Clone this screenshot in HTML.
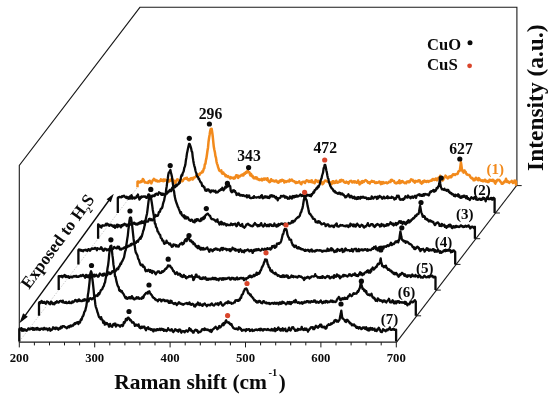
<!DOCTYPE html>
<html><head><meta charset="utf-8"><title>Raman spectra</title>
<style>html,body{margin:0;padding:0;background:#fff}svg{display:block}</style></head>
<body>
<svg width="550" height="405" viewBox="0 0 550 405">
<rect width="550" height="405" fill="#fff"/>
<g fill="none" stroke="#1a1a1a" stroke-width="1.1">
<polyline points="19.3,342.6 19.3,165.4 139.9,7.3 516.9,7.3 516.9,185.7"/>
<line x1="19.3" y1="342.1" x2="396.9" y2="342.1"/>
<line x1="396.6" y1="342.1" x2="516.9" y2="185.2"/>
</g>
<line x1="19.3" y1="341.5" x2="137.5" y2="187.3" stroke="#aaa" stroke-width="0.6" stroke-dasharray="1.5 1.5"/>
<path d="M19.3 342.1v5.3M34.4 342.1v3.3M49.5 342.1v3.3M64.5 342.1v3.3M79.6 342.1v3.3M94.7 342.1v5.3M109.8 342.1v3.3M124.9 342.1v3.3M139.9 342.1v3.3M155.0 342.1v3.3M170.1 342.1v5.3M185.2 342.1v3.3M200.3 342.1v3.3M215.3 342.1v3.3M230.4 342.1v3.3M245.5 342.1v5.3M260.6 342.1v3.3M275.7 342.1v3.3M290.7 342.1v3.3M305.8 342.1v3.3M320.9 342.1v5.3M336.0 342.1v3.3M351.1 342.1v3.3M366.1 342.1v3.3M381.2 342.1v3.3M396.3 342.1v5.3" stroke="#1a1a1a" stroke-width="1" fill="none"/>
<path d="M415.5 315.8h5.6M435.2 290.1h5.6M454.9 264.4h5.6M474.6 238.7h5.6M494.3 213.0h5.6M516.1 185.6h5.6" stroke="#1a1a1a" stroke-width="1" fill="none"/>
<polyline points="137.5,187.3 137.5,181.8 138.0,181.4 138.6,182.0 139.1,182.4 139.6,181.7 140.2,182.3 140.7,182.3 141.2,181.0 141.7,181.7 142.3,181.2 142.8,179.0 143.3,179.5 143.9,180.4 144.4,181.7 144.9,182.4 145.5,182.2 146.0,182.6 146.5,182.6 147.0,182.8 147.6,182.8 148.1,183.0 148.6,181.4 149.2,182.2 149.7,180.8 150.2,181.2 150.8,181.6 151.3,183.4 151.8,182.3 152.3,181.1 152.9,180.0 153.4,179.8 153.9,178.9 154.5,180.2 155.0,180.3 155.5,179.7 156.1,181.1 156.6,180.5 157.1,180.5 157.6,181.4 158.2,181.1 158.7,181.3 159.2,181.5 159.8,181.2 160.3,180.5 160.8,179.4 161.4,180.7 161.9,179.9 162.4,180.7 162.9,181.1 163.5,179.5 164.0,180.3 164.5,180.9 165.1,179.6 165.6,179.9 166.1,180.4 166.7,180.1 167.2,180.5 167.7,180.6 168.3,180.4 168.8,181.6 169.3,181.4 169.8,180.8 170.4,179.6 170.9,180.7 171.4,180.4 172.0,180.5 172.5,180.6 173.0,179.7 173.6,181.6 174.1,182.0 174.6,181.0 175.1,183.2 175.7,182.3 176.2,181.1 176.7,180.1 177.3,179.2 177.8,179.6 178.3,180.3 178.9,180.6 179.4,180.5 179.9,181.9 180.4,181.0 181.0,180.6 181.5,181.2 182.0,180.5 182.6,181.1 183.1,180.1 183.6,179.5 184.2,178.6 184.7,178.7 185.2,178.7 185.7,178.1 186.3,178.7 186.8,177.7 187.3,179.2 187.9,179.0 188.4,180.2 188.9,179.3 189.5,180.2 190.0,179.6 190.5,178.4 191.0,179.1 191.6,178.5 192.1,178.0 192.6,179.5 193.2,179.1 193.7,177.7 194.2,177.5 194.8,177.4 195.3,177.2 195.8,176.5 196.3,175.7 196.9,175.5 197.4,174.7 197.9,174.4 198.5,175.3 199.0,174.8 199.5,175.0 200.1,173.4 200.6,172.9 201.1,173.0 201.7,172.5 202.2,171.4 202.7,172.2 203.2,170.8 203.8,168.6 204.3,168.3 204.8,164.3 205.4,163.9 205.9,160.3 206.4,158.4 207.0,154.3 207.5,150.5 208.0,147.7 208.5,142.0 209.1,137.8 209.6,134.9 210.1,131.5 210.7,129.1 211.2,129.1 211.7,128.9 212.3,132.9 212.8,137.0 213.3,142.1 213.8,146.8 214.4,150.0 214.9,152.2 215.4,155.9 216.0,157.9 216.5,161.5 217.0,163.6 217.6,165.1 218.1,167.3 218.6,168.4 219.1,170.2 219.7,170.9 220.2,171.2 220.7,171.4 221.3,170.4 221.8,172.8 222.3,173.7 222.9,172.7 223.4,172.6 223.9,174.0 224.4,174.0 225.0,174.6 225.5,176.2 226.0,175.2 226.6,175.8 227.1,176.3 227.6,176.8 228.2,176.1 228.7,177.1 229.2,177.3 229.8,177.8 230.3,178.5 230.8,177.1 231.3,177.9 231.9,177.9 232.4,177.8 232.9,177.8 233.5,178.6 234.0,177.5 234.5,178.4 235.1,178.1 235.6,176.7 236.1,175.3 236.6,175.3 237.2,175.5 237.7,176.8 238.2,177.9 238.8,175.8 239.3,176.4 239.8,176.5 240.4,176.0 240.9,175.7 241.4,174.9 241.9,175.2 242.5,175.5 243.0,174.3 243.5,175.4 244.1,173.4 244.6,173.3 245.1,173.7 245.7,172.3 246.2,171.9 246.7,172.7 247.2,172.0 247.8,170.5 248.3,172.1 248.8,172.2 249.4,172.3 249.9,174.2 250.4,175.4 251.0,173.9 251.5,174.8 252.0,176.3 252.5,175.7 253.1,177.1 253.6,178.1 254.1,177.4 254.7,178.3 255.2,178.4 255.7,177.2 256.3,177.4 256.8,177.4 257.3,179.1 257.8,178.8 258.4,179.3 258.9,179.8 259.4,179.3 260.0,180.1 260.5,179.6 261.0,179.7 261.6,178.8 262.1,180.4 262.6,179.2 263.2,179.2 263.7,178.7 264.2,179.7 264.7,178.5 265.3,178.5 265.8,179.2 266.3,179.5 266.9,179.9 267.4,178.2 267.9,179.9 268.5,181.4 269.0,181.1 269.5,182.2 270.0,181.9 270.6,180.1 271.1,179.2 271.6,180.0 272.2,181.0 272.7,180.5 273.2,180.4 273.8,181.0 274.3,181.4 274.8,181.5 275.3,180.7 275.9,180.9 276.4,180.6 276.9,181.5 277.5,182.4 278.0,181.9 278.5,182.7 279.1,181.2 279.6,181.8 280.1,180.6 280.6,180.2 281.2,181.1 281.7,179.9 282.2,179.8 282.8,180.8 283.3,180.3 283.8,180.6 284.4,182.5 284.9,181.3 285.4,181.7 285.9,181.2 286.5,181.9 287.0,181.3 287.5,181.3 288.1,180.8 288.6,181.0 289.1,181.5 289.7,179.6 290.2,180.8 290.7,180.2 291.3,180.4 291.8,179.6 292.3,180.2 292.8,180.7 293.4,181.2 293.9,181.3 294.4,181.2 295.0,182.3 295.5,182.4 296.0,183.1 296.6,182.1 297.1,182.2 297.6,182.7 298.1,182.3 298.7,182.3 299.2,181.4 299.7,182.4 300.3,182.9 300.8,184.0 301.3,184.3 301.9,182.5 302.4,182.0 302.9,181.7 303.4,181.7 304.0,182.2 304.5,181.8 305.0,183.0 305.6,181.5 306.1,181.3 306.6,180.2 307.2,181.0 307.7,180.8 308.2,180.8 308.7,182.0 309.3,181.8 309.8,181.1 310.3,180.7 310.9,181.9 311.4,181.6 311.9,180.4 312.5,182.4 313.0,181.9 313.5,182.4 314.0,182.5 314.6,183.2 315.1,181.9 315.6,180.1 316.2,181.2 316.7,180.5 317.2,181.3 317.8,182.0 318.3,181.8 318.8,180.9 319.4,181.6 319.9,181.9 320.4,182.2 320.9,181.6 321.5,181.7 322.0,182.6 322.5,184.3 323.1,183.6 323.6,183.0 324.1,182.2 324.7,180.9 325.2,180.5 325.7,180.7 326.2,180.8 326.8,181.0 327.3,181.6 327.8,181.7 328.4,181.7 328.9,182.0 329.4,181.9 330.0,182.7 330.5,184.0 331.0,182.4 331.5,184.3 332.1,183.1 332.6,181.3 333.1,181.4 333.7,181.3 334.2,183.1 334.7,182.4 335.3,182.8 335.8,182.4 336.3,180.7 336.8,182.1 337.4,182.7 337.9,182.6 338.4,182.0 339.0,181.9 339.5,181.5 340.0,180.2 340.6,181.6 341.1,180.0 341.6,179.8 342.1,180.4 342.7,180.6 343.2,180.3 343.7,181.8 344.3,182.3 344.8,182.6 345.3,182.7 345.9,182.8 346.4,181.6 346.9,182.4 347.4,182.5 348.0,182.2 348.5,183.6 349.0,182.3 349.6,181.6 350.1,181.0 350.6,181.2 351.2,180.8 351.7,181.4 352.2,182.5 352.8,182.2 353.3,181.7 353.8,181.3 354.3,182.5 354.9,181.3 355.4,181.5 355.9,181.8 356.5,182.7 357.0,182.6 357.5,182.5 358.1,180.5 358.6,182.9 359.1,182.0 359.6,184.4 360.2,183.6 360.7,183.4 361.2,182.2 361.8,181.2 362.3,182.7 362.8,181.1 363.4,181.7 363.9,181.9 364.4,180.9 364.9,180.7 365.5,180.1 366.0,180.3 366.5,180.7 367.1,181.1 367.6,182.2 368.1,182.8 368.7,182.3 369.2,182.3 369.7,183.5 370.2,182.2 370.8,181.7 371.3,181.8 371.8,180.8 372.4,181.7 372.9,181.3 373.4,181.8 374.0,181.3 374.5,181.9 375.0,183.0 375.5,183.0 376.1,183.0 376.6,182.3 377.1,182.4 377.7,182.8 378.2,182.4 378.7,182.1 379.3,181.5 379.8,182.5 380.3,182.7 380.9,184.2 381.4,182.1 381.9,183.8 382.4,183.6 383.0,182.1 383.5,182.2 384.0,183.2 384.6,182.8 385.1,182.7 385.6,182.8 386.2,182.4 386.7,183.1 387.2,183.3 387.7,182.8 388.3,182.7 388.8,181.8 389.3,181.9 389.9,182.0 390.4,182.1 390.9,179.9 391.5,181.0 392.0,179.9 392.5,180.5 393.0,180.9 393.6,181.1 394.1,181.1 394.6,182.6 395.2,183.0 395.7,183.1 396.2,183.4 396.8,182.7 397.3,182.5 397.8,183.0 398.3,182.2 398.9,181.3 399.4,180.4 399.9,183.3 400.5,181.7 401.0,182.7 401.5,181.2 402.1,181.4 402.6,181.1 403.1,182.2 403.6,182.5 404.2,182.4 404.7,183.1 405.2,182.7 405.8,182.6 406.3,183.2 406.8,181.6 407.4,181.4 407.9,181.7 408.4,181.4 408.9,182.3 409.5,182.1 410.0,181.7 410.5,180.2 411.1,179.3 411.6,180.1 412.1,180.1 412.7,179.9 413.2,181.2 413.7,181.8 414.3,181.8 414.8,182.7 415.3,180.9 415.8,181.3 416.4,181.6 416.9,181.1 417.4,181.5 418.0,181.4 418.5,180.3 419.0,180.6 419.6,180.3 420.1,181.4 420.6,182.7 421.1,182.5 421.7,183.7 422.2,182.3 422.7,181.4 423.3,182.4 423.8,181.2 424.3,180.5 424.9,181.2 425.4,181.6 425.9,181.0 426.4,181.9 427.0,181.6 427.5,181.0 428.0,180.9 428.6,182.0 429.1,180.9 429.6,180.9 430.2,181.1 430.7,180.7 431.2,180.2 431.7,180.6 432.3,179.4 432.8,179.1 433.3,179.0 433.9,179.9 434.4,179.9 434.9,179.8 435.5,178.7 436.0,178.5 436.5,179.0 437.0,180.3 437.6,179.2 438.1,178.6 438.6,177.6 439.2,177.3 439.7,177.8 440.2,175.8 440.8,176.8 441.3,178.9 441.8,178.3 442.4,180.6 442.9,180.0 443.4,179.5 443.9,177.6 444.5,177.7 445.0,177.2 445.5,175.6 446.1,176.1 446.6,177.2 447.1,177.8 447.7,178.5 448.2,178.2 448.7,177.3 449.2,176.6 449.8,177.2 450.3,176.2 450.8,177.3 451.4,177.2 451.9,175.5 452.4,175.4 453.0,174.2 453.5,175.0 454.0,174.9 454.5,174.4 455.1,174.9 455.6,174.3 456.1,174.1 456.7,174.1 457.2,173.7 457.7,173.9 458.3,171.7 458.8,171.0 459.3,171.1 459.8,170.6 460.4,166.1 460.9,162.3 461.4,165.3 462.0,169.9 462.5,171.2 463.0,170.5 463.6,172.6 464.1,170.5 464.6,170.6 465.1,172.3 465.7,171.9 466.2,173.5 466.7,174.6 467.3,174.5 467.8,174.7 468.3,175.1 468.9,175.0 469.4,175.1 469.9,175.7 470.4,177.2 471.0,177.8 471.5,178.2 472.0,177.8 472.6,179.0 473.1,178.8 473.6,180.3 474.2,180.2 474.7,180.2 475.2,178.9 475.8,177.7 476.3,179.2 476.8,179.4 477.3,178.6 477.9,180.1 478.4,180.3 478.9,178.1 479.5,179.0 480.0,179.4 480.5,180.4 481.1,180.2 481.6,180.8 482.1,180.2 482.6,181.3 483.2,181.3 483.7,180.6 484.2,180.9 484.8,179.7 485.3,179.9 485.8,181.5 486.4,180.9 486.9,181.3 487.4,181.1 487.9,182.1 488.5,182.1 489.0,181.1 489.5,179.8 490.1,180.0 490.6,180.0 491.1,180.6 491.7,180.2 492.2,179.9 492.7,181.0 493.2,179.9 493.8,180.6 494.3,181.6 494.8,182.7 495.4,183.6 495.9,181.0 496.4,181.8 497.0,180.5 497.5,179.7 498.0,180.0 498.5,180.3 499.1,179.9 499.6,180.4 500.1,181.1 500.7,182.2 501.2,182.4 501.7,183.7 502.3,183.6 502.8,183.7 503.3,182.9 503.9,181.8 504.4,182.4 504.9,181.3 505.4,180.9 506.0,178.8 506.5,180.7 507.0,181.9 507.6,181.1 508.1,181.3 508.6,182.4 509.2,182.9 509.7,182.3 510.2,181.7 510.7,181.8 511.3,181.8 511.8,180.9 512.3,182.1 512.9,182.9 513.4,182.4 513.9,182.7 514.5,180.6 515.0,180.9 515.5,180.8 516.0,181.6 516.0,185.8" fill="none" stroke="#f28a1c" stroke-width="2.5" stroke-linejoin="round"/>
<polyline points="117.8,213.0 117.8,197.9 118.3,197.3 118.9,197.1 119.4,197.3 119.9,196.8 120.4,197.2 121.0,197.3 121.5,197.3 122.0,196.2 122.6,196.8 123.1,196.0 123.6,196.4 124.1,195.7 124.7,196.4 125.2,197.2 125.7,197.2 126.2,198.0 126.8,196.8 127.3,197.4 127.8,197.9 128.4,198.7 128.9,197.1 129.4,198.6 129.9,196.3 130.5,197.1 131.0,198.5 131.5,195.2 132.1,196.6 132.6,198.6 133.1,198.0 133.6,197.9 134.2,197.5 134.7,198.5 135.2,197.9 135.7,197.6 136.3,197.6 136.8,195.8 137.3,196.0 137.9,194.5 138.4,196.9 138.9,197.5 139.4,199.6 140.0,198.8 140.5,197.0 141.0,197.7 141.6,196.5 142.1,197.0 142.6,196.7 143.1,196.6 143.7,196.5 144.2,196.8 144.7,196.3 145.2,196.4 145.8,197.4 146.3,197.7 146.8,197.9 147.4,197.5 147.9,195.5 148.4,194.4 148.9,194.4 149.5,195.0 150.0,196.4 150.5,196.4 151.1,196.8 151.6,197.2 152.1,195.7 152.6,196.2 153.2,195.3 153.7,195.5 154.2,196.2 154.7,196.0 155.3,194.1 155.8,194.7 156.3,193.6 156.9,193.8 157.4,194.5 157.9,194.8 158.4,193.5 159.0,192.2 159.5,193.1 160.0,192.8 160.6,193.3 161.1,194.5 161.6,194.8 162.1,193.5 162.7,194.7 163.2,193.7 163.7,194.8 164.2,195.0 164.8,194.4 165.3,194.2 165.8,193.4 166.4,192.3 166.9,193.6 167.4,191.6 167.9,191.9 168.5,192.2 169.0,191.3 169.5,190.3 170.1,189.7 170.6,190.1 171.1,191.3 171.6,190.1 172.2,187.7 172.7,189.3 173.2,187.7 173.7,187.0 174.3,187.1 174.8,185.7 175.3,187.1 175.9,185.6 176.4,184.6 176.9,185.8 177.4,184.8 178.0,184.3 178.5,184.1 179.0,182.4 179.6,183.2 180.1,180.6 180.6,179.6 181.1,176.4 181.7,174.8 182.2,175.5 182.7,173.2 183.2,172.2 183.8,170.7 184.3,167.7 184.8,166.8 185.4,164.4 185.9,160.2 186.4,157.5 186.9,153.8 187.5,151.0 188.0,148.6 188.5,146.2 189.1,143.9 189.6,144.0 190.1,145.2 190.6,146.7 191.2,148.7 191.7,151.4 192.2,152.2 192.7,156.8 193.3,160.7 193.8,163.5 194.3,165.8 194.9,167.7 195.4,170.3 195.9,172.1 196.4,173.4 197.0,176.2 197.5,176.7 198.0,176.8 198.6,179.0 199.1,178.8 199.6,180.1 200.1,181.3 200.7,182.3 201.2,182.5 201.7,183.9 202.2,185.9 202.8,185.7 203.3,186.1 203.8,187.2 204.4,187.1 204.9,189.1 205.4,190.6 205.9,190.7 206.5,190.8 207.0,189.4 207.5,190.4 208.1,189.4 208.6,189.6 209.1,190.2 209.6,191.5 210.2,190.7 210.7,192.3 211.2,191.4 211.7,190.5 212.3,191.1 212.8,190.9 213.3,190.5 213.9,191.5 214.4,191.7 214.9,191.1 215.4,190.6 216.0,192.6 216.5,192.3 217.0,192.1 217.6,192.3 218.1,191.9 218.6,191.0 219.1,190.4 219.7,190.7 220.2,190.0 220.7,189.3 221.2,189.9 221.8,189.1 222.3,187.8 222.8,189.6 223.4,190.3 223.9,189.5 224.4,189.2 224.9,187.5 225.5,186.5 226.0,187.6 226.5,187.1 227.1,186.6 227.6,186.7 228.1,185.5 228.6,185.5 229.2,185.0 229.7,186.1 230.2,186.1 230.7,190.5 231.3,191.8 231.8,192.3 232.3,192.0 232.9,190.5 233.4,190.8 233.9,190.1 234.4,191.6 235.0,190.9 235.5,192.5 236.0,192.8 236.6,195.0 237.1,194.4 237.6,193.7 238.1,193.5 238.7,194.7 239.2,193.7 239.7,195.1 240.2,195.6 240.8,195.2 241.3,195.2 241.8,195.0 242.4,195.8 242.9,195.5 243.4,195.2 243.9,195.3 244.5,196.2 245.0,196.1 245.5,196.3 246.1,195.8 246.6,195.2 247.1,197.4 247.6,195.6 248.2,196.5 248.7,196.9 249.2,195.5 249.7,197.8 250.3,197.9 250.8,198.2 251.3,198.2 251.9,198.0 252.4,197.5 252.9,197.1 253.4,197.9 254.0,196.2 254.5,197.5 255.0,197.3 255.6,197.3 256.1,197.4 256.6,197.6 257.1,197.3 257.7,197.2 258.2,197.1 258.7,197.0 259.3,197.8 259.8,197.6 260.3,197.5 260.8,196.0 261.4,197.4 261.9,195.2 262.4,196.2 262.9,198.3 263.5,197.5 264.0,197.5 264.5,197.6 265.1,196.3 265.6,197.2 266.1,196.4 266.6,196.8 267.2,197.7 267.7,196.6 268.2,197.7 268.8,197.9 269.3,198.0 269.8,196.9 270.3,195.5 270.9,196.5 271.4,195.3 271.9,195.8 272.4,195.5 273.0,196.6 273.5,195.9 274.0,195.8 274.6,197.1 275.1,196.9 275.6,198.2 276.1,196.9 276.7,198.5 277.2,198.0 277.7,200.3 278.3,198.6 278.8,198.3 279.3,198.1 279.8,198.0 280.4,197.6 280.9,196.0 281.4,196.4 281.9,195.9 282.5,196.4 283.0,196.5 283.5,195.7 284.1,195.9 284.6,196.5 285.1,197.7 285.6,196.5 286.2,197.0 286.7,197.7 287.2,197.3 287.8,198.7 288.3,198.4 288.8,198.6 289.3,198.6 289.9,196.5 290.4,197.7 290.9,196.6 291.4,198.0 292.0,198.5 292.5,197.2 293.0,196.0 293.6,196.5 294.1,197.4 294.6,196.3 295.1,195.8 295.7,196.9 296.2,196.6 296.7,195.4 297.3,196.1 297.8,196.5 298.3,196.3 298.8,196.2 299.4,195.3 299.9,195.2 300.4,194.5 300.9,195.0 301.5,196.1 302.0,195.1 302.5,195.8 303.1,195.5 303.6,195.6 304.1,196.8 304.6,196.2 305.2,195.9 305.7,196.1 306.2,196.0 306.8,194.6 307.3,194.9 307.8,195.5 308.3,195.4 308.9,195.0 309.4,195.7 309.9,194.9 310.4,195.2 311.0,196.2 311.5,194.2 312.0,194.8 312.6,193.7 313.1,193.0 313.6,191.8 314.1,192.6 314.7,190.1 315.2,190.2 315.7,189.6 316.3,188.4 316.8,187.8 317.3,188.5 317.8,186.5 318.4,187.2 318.9,186.0 319.4,184.9 319.9,183.7 320.5,181.0 321.0,179.2 321.5,178.6 322.1,175.5 322.6,174.0 323.1,172.4 323.6,168.5 324.2,166.9 324.7,164.9 325.2,164.9 325.8,167.2 326.3,170.3 326.8,172.1 327.3,175.3 327.9,178.1 328.4,178.8 328.9,182.2 329.4,183.1 330.0,184.9 330.5,186.5 331.0,187.0 331.6,188.4 332.1,188.5 332.6,189.1 333.1,190.0 333.7,191.2 334.2,190.9 334.7,191.0 335.3,192.6 335.8,192.1 336.3,192.7 336.8,193.1 337.4,193.1 337.9,193.8 338.4,193.7 338.9,192.7 339.5,192.7 340.0,193.0 340.5,194.3 341.1,193.4 341.6,194.2 342.1,193.5 342.6,193.9 343.2,194.8 343.7,194.7 344.2,195.9 344.8,195.8 345.3,197.4 345.8,196.4 346.3,197.0 346.9,196.1 347.4,195.3 347.9,195.2 348.4,194.3 349.0,195.6 349.5,196.9 350.0,197.4 350.6,196.8 351.1,195.7 351.6,197.1 352.1,196.5 352.7,198.1 353.2,197.8 353.7,197.0 354.3,196.7 354.8,198.7 355.3,198.1 355.8,197.8 356.4,199.0 356.9,197.8 357.4,197.3 357.9,198.9 358.5,197.2 359.0,197.5 359.5,198.2 360.1,198.7 360.6,196.9 361.1,197.9 361.6,197.2 362.2,196.9 362.7,197.6 363.2,196.7 363.8,197.5 364.3,197.8 364.8,197.7 365.3,197.9 365.9,197.4 366.4,198.1 366.9,199.0 367.4,198.5 368.0,198.2 368.5,199.0 369.0,198.2 369.6,198.6 370.1,198.9 370.6,198.4 371.1,198.7 371.7,196.3 372.2,197.1 372.7,198.3 373.3,198.6 373.8,197.7 374.3,197.4 374.8,196.9 375.4,197.1 375.9,197.0 376.4,197.5 376.9,199.0 377.5,196.6 378.0,198.4 378.5,197.0 379.1,197.1 379.6,195.9 380.1,197.1 380.6,196.7 381.2,196.8 381.7,197.8 382.2,198.7 382.8,198.2 383.3,198.2 383.8,196.7 384.3,197.3 384.9,198.3 385.4,198.1 385.9,197.7 386.5,197.8 387.0,196.7 387.5,196.3 388.0,198.3 388.6,197.2 389.1,197.9 389.6,197.6 390.1,197.8 390.7,197.8 391.2,197.9 391.7,196.8 392.3,197.6 392.8,197.3 393.3,197.5 393.8,198.0 394.4,199.5 394.9,198.9 395.4,198.2 396.0,198.7 396.5,197.4 397.0,195.7 397.5,196.9 398.1,196.3 398.6,195.7 399.1,197.1 399.6,199.0 400.2,199.7 400.7,199.4 401.2,199.4 401.8,199.6 402.3,198.9 402.8,199.7 403.3,199.9 403.9,198.4 404.4,198.9 404.9,197.6 405.5,196.3 406.0,196.5 406.5,196.8 407.0,197.5 407.6,197.5 408.1,195.5 408.6,196.3 409.1,197.2 409.7,197.2 410.2,197.9 410.7,198.2 411.3,196.7 411.8,197.0 412.3,197.5 412.8,196.5 413.4,197.7 413.9,196.7 414.4,196.7 415.0,195.8 415.5,196.5 416.0,198.0 416.5,196.1 417.1,195.4 417.6,195.2 418.1,194.7 418.6,194.6 419.2,194.2 419.7,195.6 420.2,195.6 420.8,194.8 421.3,195.7 421.8,194.9 422.3,195.8 422.9,195.6 423.4,194.2 423.9,195.6 424.5,195.0 425.0,193.9 425.5,194.3 426.0,194.2 426.6,194.5 427.1,194.2 427.6,194.8 428.1,194.7 428.7,195.4 429.2,194.5 429.7,192.8 430.3,191.8 430.8,192.3 431.3,191.2 431.8,191.2 432.4,191.1 432.9,190.5 433.4,189.9 434.0,191.7 434.5,190.6 435.0,190.2 435.5,191.0 436.1,190.0 436.6,188.1 437.1,187.9 437.6,188.2 438.2,186.3 438.7,186.3 439.2,184.1 439.8,179.9 440.3,184.0 440.8,186.7 441.3,187.9 441.9,189.3 442.4,189.4 442.9,189.1 443.5,189.8 444.0,189.5 444.5,188.8 445.0,190.1 445.6,190.2 446.1,190.2 446.6,190.8 447.1,189.8 447.7,190.5 448.2,189.9 448.7,191.8 449.3,191.4 449.8,192.8 450.3,193.2 450.8,192.8 451.4,193.0 451.9,194.4 452.4,194.3 453.0,194.1 453.5,195.0 454.0,195.9 454.5,195.0 455.1,196.4 455.6,194.8 456.1,195.0 456.6,195.5 457.2,195.9 457.7,196.0 458.2,194.3 458.8,196.6 459.3,195.4 459.8,197.3 460.3,197.7 460.9,197.9 461.4,196.8 461.9,196.2 462.5,197.2 463.0,197.0 463.5,195.7 464.0,196.2 464.6,195.7 465.1,197.2 465.6,197.3 466.1,198.3 466.7,196.2 467.2,197.6 467.7,198.7 468.3,198.3 468.8,199.2 469.3,199.1 469.8,200.0 470.4,198.6 470.9,197.9 471.4,197.2 472.0,198.1 472.5,198.1 473.0,198.4 473.5,198.9 474.1,197.7 474.6,197.1 475.1,198.0 475.6,197.0 476.2,199.6 476.7,199.2 477.2,199.3 477.8,199.8 478.3,199.7 478.8,199.0 479.3,198.6 479.9,198.7 480.4,199.8 480.9,199.3 481.5,199.9 482.0,198.6 482.5,199.4 483.0,197.7 483.6,197.9 484.1,198.7 484.6,198.3 485.1,199.5 485.7,201.3 486.2,199.2 486.7,199.2 487.3,197.1 487.8,196.7 488.3,199.1 488.8,199.1 489.4,199.2 489.9,198.6 490.4,198.4 491.0,197.9 491.5,199.4 492.0,198.0 492.5,199.6 493.1,198.2 493.6,197.8 494.1,198.2 494.6,198.8 494.6,213.0" fill="none" stroke="#0a0a0a" stroke-width="2.3" stroke-linejoin="round"/>
<polyline points="98.1,238.7 98.1,224.4 98.6,224.6 99.2,225.5 99.7,225.4 100.2,226.8 100.7,226.3 101.3,227.6 101.8,225.7 102.3,226.2 102.9,225.2 103.4,225.7 103.9,225.7 104.4,225.7 105.0,225.3 105.5,224.5 106.0,223.8 106.5,225.2 107.1,223.6 107.6,224.6 108.1,224.2 108.7,224.5 109.2,225.9 109.7,225.5 110.2,225.0 110.8,224.6 111.3,225.2 111.8,225.6 112.4,226.1 112.9,225.4 113.4,226.8 113.9,226.6 114.5,225.5 115.0,227.8 115.5,226.6 116.0,225.6 116.6,226.6 117.1,224.6 117.6,227.2 118.2,225.3 118.7,224.9 119.2,225.7 119.7,226.2 120.3,226.2 120.8,227.4 121.3,225.1 121.9,226.3 122.4,225.1 122.9,224.6 123.4,225.3 124.0,224.3 124.5,223.6 125.0,224.6 125.5,224.3 126.1,224.6 126.6,226.1 127.1,224.9 127.7,224.7 128.2,225.5 128.7,224.7 129.2,225.0 129.8,224.0 130.3,224.6 130.8,223.8 131.4,224.5 131.9,223.8 132.4,223.9 132.9,223.6 133.5,223.5 134.0,222.6 134.5,223.8 135.0,223.1 135.6,223.8 136.1,224.5 136.6,223.8 137.2,224.2 137.7,224.5 138.2,223.4 138.7,222.9 139.3,223.6 139.8,223.5 140.3,222.0 140.9,223.4 141.4,222.5 141.9,221.3 142.4,222.9 143.0,222.1 143.5,222.2 144.0,223.4 144.5,220.8 145.1,222.3 145.6,221.9 146.1,221.4 146.7,221.6 147.2,221.6 147.7,221.6 148.2,221.4 148.8,219.1 149.3,219.5 149.8,218.8 150.4,219.5 150.9,220.2 151.4,219.3 151.9,219.9 152.5,220.3 153.0,220.0 153.5,219.5 154.0,217.4 154.6,215.7 155.1,216.8 155.6,214.8 156.2,216.0 156.7,215.7 157.2,215.9 157.7,215.9 158.3,214.5 158.8,212.3 159.3,211.7 159.9,211.9 160.4,210.0 160.9,208.7 161.4,208.7 162.0,208.2 162.5,206.6 163.0,203.8 163.5,202.2 164.1,200.6 164.6,197.7 165.1,195.8 165.7,193.9 166.2,189.3 166.7,186.4 167.2,182.2 167.8,178.4 168.3,174.6 168.8,172.5 169.4,172.2 169.9,171.0 170.4,170.0 170.9,172.7 171.5,174.7 172.0,177.1 172.5,181.0 173.0,184.7 173.6,189.7 174.1,191.6 174.6,195.8 175.2,198.4 175.7,200.7 176.2,202.1 176.7,203.5 177.3,205.1 177.8,206.8 178.3,207.4 178.9,209.1 179.4,210.3 179.9,211.6 180.4,213.2 181.0,212.1 181.5,214.0 182.0,215.4 182.5,215.5 183.1,216.1 183.6,216.9 184.1,215.3 184.7,218.3 185.2,217.4 185.7,216.5 186.2,218.6 186.8,217.8 187.3,217.9 187.8,217.3 188.4,218.6 188.9,219.7 189.4,220.1 189.9,220.0 190.5,220.9 191.0,219.9 191.5,219.6 192.0,219.8 192.6,220.5 193.1,221.8 193.6,221.9 194.2,222.2 194.7,222.3 195.2,219.7 195.7,221.2 196.3,220.9 196.8,219.2 197.3,220.0 197.9,219.2 198.4,220.2 198.9,220.5 199.4,220.9 200.0,221.1 200.5,220.3 201.0,218.7 201.5,220.5 202.1,218.6 202.6,217.7 203.1,218.2 203.7,219.0 204.2,216.6 204.7,217.9 205.2,215.7 205.8,215.0 206.3,214.6 206.8,214.2 207.4,213.9 207.9,213.6 208.4,214.4 208.9,215.0 209.5,215.6 210.0,215.6 210.5,217.0 211.0,218.2 211.6,219.1 212.1,218.9 212.6,219.2 213.2,219.4 213.7,219.5 214.2,219.9 214.7,220.0 215.3,221.0 215.8,221.6 216.3,220.4 216.9,221.2 217.4,219.3 217.9,222.1 218.4,222.1 219.0,223.3 219.5,224.6 220.0,222.5 220.5,222.8 221.1,221.8 221.6,224.4 222.1,222.3 222.7,224.0 223.2,224.0 223.7,224.6 224.2,223.3 224.8,223.6 225.3,223.6 225.8,224.6 226.4,225.5 226.9,224.3 227.4,224.3 227.9,224.7 228.5,225.2 229.0,225.1 229.5,225.0 230.0,225.1 230.6,225.0 231.1,223.5 231.6,224.0 232.2,224.9 232.7,225.1 233.2,224.1 233.7,224.3 234.3,224.0 234.8,224.3 235.3,223.6 235.9,225.4 236.4,226.2 236.9,226.0 237.4,225.0 238.0,223.1 238.5,222.8 239.0,223.8 239.6,224.7 240.1,225.4 240.6,225.9 241.1,224.9 241.7,224.9 242.2,224.0 242.7,226.7 243.2,226.5 243.8,226.9 244.3,227.7 244.8,227.2 245.4,226.7 245.9,225.4 246.4,224.4 246.9,224.6 247.5,224.1 248.0,223.7 248.5,224.4 249.1,225.0 249.6,224.8 250.1,225.4 250.6,225.7 251.2,226.2 251.7,225.9 252.2,225.9 252.7,226.3 253.3,225.7 253.8,224.4 254.3,224.2 254.9,223.0 255.4,224.4 255.9,224.6 256.4,224.5 257.0,225.3 257.5,226.2 258.0,225.2 258.6,225.2 259.1,226.1 259.6,224.9 260.1,224.5 260.7,225.3 261.2,223.1 261.7,224.7 262.2,225.5 262.8,225.8 263.3,226.6 263.8,225.1 264.4,225.5 264.9,223.8 265.4,224.7 265.9,225.5 266.5,225.1 267.0,226.2 267.5,224.9 268.1,225.9 268.6,225.0 269.1,226.2 269.6,224.4 270.2,224.3 270.7,224.3 271.2,224.7 271.7,225.8 272.3,226.0 272.8,225.5 273.3,226.0 273.9,225.0 274.4,223.5 274.9,225.6 275.4,225.1 276.0,225.8 276.5,226.6 277.0,224.8 277.6,226.3 278.1,225.9 278.6,224.0 279.1,224.1 279.7,225.1 280.2,224.1 280.7,224.1 281.2,223.4 281.8,223.8 282.3,223.8 282.8,223.7 283.4,224.6 283.9,224.1 284.4,224.0 284.9,223.4 285.5,224.1 286.0,224.9 286.5,224.1 287.1,224.2 287.6,223.9 288.1,223.8 288.6,223.0 289.2,223.6 289.7,223.6 290.2,223.4 290.7,223.4 291.3,222.6 291.8,221.3 292.3,221.0 292.9,222.5 293.4,220.9 293.9,221.3 294.4,221.4 295.0,220.5 295.5,219.7 296.0,218.9 296.6,218.4 297.1,217.9 297.6,217.7 298.1,216.9 298.7,217.2 299.2,216.2 299.7,216.0 300.2,214.1 300.8,212.3 301.3,211.9 301.8,209.7 302.4,208.5 302.9,206.0 303.4,202.8 303.9,199.7 304.5,197.8 305.0,197.9 305.5,197.6 306.1,199.6 306.6,200.1 307.1,202.9 307.6,205.9 308.2,208.2 308.7,211.1 309.2,213.1 309.7,213.9 310.3,213.8 310.8,215.1 311.3,215.5 311.9,216.7 312.4,216.8 312.9,218.7 313.4,218.8 314.0,218.9 314.5,219.1 315.0,219.6 315.6,222.1 316.1,221.7 316.6,221.7 317.1,222.5 317.7,221.5 318.2,222.5 318.7,221.1 319.2,221.8 319.8,221.7 320.3,223.1 320.8,223.0 321.4,224.4 321.9,224.3 322.4,223.9 322.9,223.9 323.5,223.8 324.0,223.1 324.5,224.0 325.1,224.3 325.6,226.2 326.1,225.6 326.6,225.5 327.2,224.4 327.7,224.3 328.2,224.4 328.7,225.1 329.3,226.5 329.8,226.0 330.3,226.5 330.9,225.9 331.4,225.6 331.9,226.1 332.4,226.2 333.0,225.6 333.5,227.1 334.0,227.0 334.6,225.9 335.1,225.2 335.6,224.5 336.1,224.0 336.7,223.5 337.2,226.2 337.7,226.1 338.2,226.5 338.8,226.5 339.3,226.1 339.8,225.8 340.4,225.0 340.9,225.7 341.4,225.5 341.9,225.3 342.5,225.1 343.0,225.7 343.5,225.6 344.1,226.1 344.6,225.9 345.1,226.0 345.6,226.3 346.2,225.5 346.7,226.1 347.2,225.4 347.7,225.7 348.3,227.1 348.8,226.1 349.3,225.2 349.9,226.2 350.4,223.7 350.9,224.4 351.4,225.1 352.0,224.5 352.5,225.3 353.0,226.1 353.6,224.5 354.1,226.4 354.6,225.6 355.1,224.7 355.7,226.6 356.2,225.9 356.7,224.9 357.2,223.6 357.8,224.7 358.3,225.0 358.8,225.4 359.4,226.6 359.9,226.9 360.4,225.9 360.9,225.8 361.5,224.8 362.0,225.4 362.5,225.2 363.1,226.1 363.6,227.2 364.1,227.5 364.6,227.1 365.2,226.3 365.7,226.6 366.2,225.7 366.8,225.4 367.3,224.3 367.8,223.1 368.3,224.9 368.9,225.7 369.4,226.0 369.9,225.3 370.4,225.4 371.0,224.2 371.5,224.3 372.0,224.1 372.6,224.4 373.1,224.9 373.6,226.4 374.1,226.0 374.7,227.0 375.2,225.7 375.7,226.0 376.3,224.6 376.8,224.9 377.3,224.0 377.8,224.4 378.4,224.6 378.9,224.9 379.4,225.1 379.9,226.5 380.5,225.1 381.0,226.3 381.5,223.8 382.1,225.2 382.6,225.2 383.1,225.6 383.6,224.7 384.2,226.5 384.7,225.7 385.2,225.7 385.8,225.9 386.3,224.9 386.8,224.1 387.3,225.4 387.9,224.2 388.4,225.3 388.9,224.5 389.4,224.0 390.0,223.9 390.5,222.3 391.0,223.4 391.6,223.1 392.1,224.3 392.6,224.7 393.1,223.6 393.7,225.5 394.2,224.7 394.7,224.4 395.3,223.7 395.8,222.9 396.3,225.1 396.8,223.8 397.4,223.5 397.9,223.7 398.4,222.9 398.9,221.8 399.5,221.1 400.0,221.9 400.5,222.7 401.1,221.2 401.6,221.9 402.1,223.3 402.6,223.9 403.2,222.1 403.7,222.0 404.2,222.1 404.8,223.7 405.3,224.0 405.8,224.5 406.3,222.5 406.9,221.7 407.4,223.0 407.9,221.7 408.4,220.2 409.0,221.6 409.5,222.3 410.0,220.8 410.6,221.3 411.1,220.6 411.6,219.5 412.1,219.7 412.7,218.8 413.2,218.0 413.7,218.5 414.3,217.6 414.8,217.1 415.3,215.7 415.8,216.0 416.4,216.0 416.9,214.4 417.4,214.4 417.9,214.2 418.5,214.0 419.0,211.9 419.5,208.9 420.1,205.8 420.6,208.5 421.1,211.7 421.6,213.1 422.2,214.5 422.7,216.7 423.2,216.9 423.8,215.9 424.3,216.2 424.8,216.8 425.3,218.9 425.9,218.4 426.4,219.5 426.9,219.0 427.4,219.1 428.0,220.5 428.5,220.1 429.0,221.5 429.6,220.5 430.1,221.0 430.6,220.5 431.1,221.5 431.7,221.2 432.2,221.8 432.7,222.1 433.3,221.9 433.8,223.5 434.3,224.0 434.8,225.1 435.4,224.8 435.9,223.6 436.4,222.9 436.9,222.9 437.5,222.5 438.0,222.5 438.5,223.6 439.1,223.7 439.6,225.9 440.1,224.9 440.6,224.8 441.2,226.1 441.7,224.0 442.2,224.1 442.8,225.6 443.3,224.9 443.8,225.3 444.3,224.6 444.9,226.9 445.4,226.9 445.9,226.4 446.4,227.8 447.0,226.2 447.5,226.1 448.0,226.7 448.6,225.1 449.1,225.0 449.6,226.4 450.1,224.7 450.7,225.2 451.2,226.0 451.7,227.7 452.3,228.1 452.8,227.6 453.3,226.2 453.8,226.4 454.4,226.3 454.9,227.5 455.4,227.3 455.9,225.9 456.5,225.8 457.0,226.9 457.5,226.5 458.1,226.5 458.6,226.9 459.1,227.0 459.6,226.7 460.2,226.0 460.7,225.4 461.2,225.3 461.8,226.3 462.3,226.6 462.8,226.3 463.3,227.1 463.9,226.5 464.4,226.9 464.9,226.3 465.4,225.6 466.0,226.1 466.5,226.7 467.0,226.3 467.6,225.9 468.1,226.5 468.6,225.4 469.1,226.5 469.7,226.8 470.2,228.4 470.7,227.9 471.3,226.8 471.8,227.0 472.3,226.6 472.8,226.7 473.4,227.3 473.9,228.0 474.4,227.2 474.9,226.7 474.9,238.7" fill="none" stroke="#0a0a0a" stroke-width="2.3" stroke-linejoin="round"/>
<polyline points="78.4,264.4 78.4,250.2 78.9,249.5 79.5,250.2 80.0,249.6 80.5,250.5 81.0,249.9 81.6,250.7 82.1,250.3 82.6,250.8 83.2,251.2 83.7,250.1 84.2,250.3 84.7,250.1 85.3,249.7 85.8,249.9 86.3,250.6 86.8,249.9 87.4,250.9 87.9,250.0 88.4,249.1 89.0,249.4 89.5,249.6 90.0,250.8 90.5,250.0 91.1,249.3 91.6,248.5 92.1,249.0 92.7,248.4 93.2,248.8 93.7,248.9 94.2,248.8 94.8,247.8 95.3,247.9 95.8,248.7 96.3,249.0 96.9,250.2 97.4,248.2 97.9,248.5 98.5,248.7 99.0,248.8 99.5,249.0 100.0,248.9 100.6,248.3 101.1,247.2 101.6,247.6 102.2,249.6 102.7,249.6 103.2,250.7 103.7,250.8 104.3,249.0 104.8,248.6 105.3,249.2 105.8,248.9 106.4,249.5 106.9,250.3 107.4,249.9 108.0,249.4 108.5,249.2 109.0,250.2 109.5,248.6 110.1,248.4 110.6,248.9 111.1,249.3 111.7,250.0 112.2,249.7 112.7,248.9 113.2,248.9 113.8,247.4 114.3,246.9 114.8,247.6 115.3,247.8 115.9,248.0 116.4,248.4 116.9,248.3 117.5,246.6 118.0,247.5 118.5,248.0 119.0,246.8 119.6,249.3 120.1,249.4 120.6,248.7 121.2,249.6 121.7,248.7 122.2,248.7 122.7,248.3 123.3,248.6 123.8,247.6 124.3,247.8 124.8,247.9 125.4,246.9 125.9,248.2 126.4,247.5 127.0,245.8 127.5,247.1 128.0,246.4 128.5,245.7 129.1,246.2 129.6,245.9 130.1,245.5 130.7,244.2 131.2,245.3 131.7,243.8 132.2,244.0 132.8,244.0 133.3,244.2 133.8,243.1 134.3,244.0 134.9,243.4 135.4,242.7 135.9,242.9 136.5,241.6 137.0,241.3 137.5,240.8 138.0,241.7 138.6,239.8 139.1,239.5 139.6,238.5 140.2,237.5 140.7,238.7 141.2,236.3 141.7,236.7 142.3,234.4 142.8,232.5 143.3,230.4 143.8,229.4 144.4,226.5 144.9,224.6 145.4,221.7 146.0,217.9 146.5,215.7 147.0,213.7 147.5,210.0 148.1,204.9 148.6,200.9 149.1,197.9 149.7,196.3 150.2,197.6 150.7,197.2 151.2,199.2 151.8,202.8 152.3,206.1 152.8,210.0 153.3,212.8 153.9,216.1 154.4,220.0 154.9,223.5 155.5,224.0 156.0,227.0 156.5,227.6 157.0,228.5 157.6,231.4 158.1,231.6 158.6,232.8 159.2,233.8 159.7,234.8 160.2,235.1 160.7,237.6 161.3,238.4 161.8,238.4 162.3,240.5 162.8,240.8 163.4,240.7 163.9,243.0 164.4,243.8 165.0,242.9 165.5,242.7 166.0,243.0 166.5,240.7 167.1,242.5 167.6,242.7 168.1,242.9 168.7,243.2 169.2,244.2 169.7,244.0 170.2,243.5 170.8,245.3 171.3,245.5 171.8,246.9 172.3,245.6 172.9,246.4 173.4,244.3 173.9,244.5 174.5,244.9 175.0,244.7 175.5,245.6 176.0,246.3 176.6,245.1 177.1,246.4 177.6,246.1 178.2,246.7 178.7,246.6 179.2,245.1 179.7,244.6 180.3,243.7 180.8,243.4 181.3,243.4 181.8,242.8 182.4,244.5 182.9,243.2 183.4,243.8 184.0,243.0 184.5,240.9 185.0,240.3 185.5,239.4 186.1,239.2 186.6,241.2 187.1,239.2 187.7,237.4 188.2,237.7 188.7,237.8 189.2,239.1 189.8,240.6 190.3,241.0 190.8,240.4 191.3,240.6 191.9,242.4 192.4,242.1 192.9,241.9 193.5,244.2 194.0,243.5 194.5,243.5 195.0,244.3 195.6,246.0 196.1,245.9 196.6,247.2 197.2,247.3 197.7,248.0 198.2,245.8 198.7,248.1 199.3,246.6 199.8,248.8 200.3,249.3 200.8,249.7 201.4,248.0 201.9,248.0 202.4,248.7 203.0,249.5 203.5,248.0 204.0,249.2 204.5,249.3 205.1,249.1 205.6,249.1 206.1,248.5 206.7,248.0 207.2,247.4 207.7,249.0 208.2,249.3 208.8,250.6 209.3,251.8 209.8,250.3 210.3,249.4 210.9,249.5 211.4,250.2 211.9,250.0 212.5,251.3 213.0,250.7 213.5,249.8 214.0,249.1 214.6,249.7 215.1,248.7 215.6,248.4 216.2,249.1 216.7,248.6 217.2,249.7 217.7,249.8 218.3,249.5 218.8,249.5 219.3,249.6 219.9,250.5 220.4,249.8 220.9,248.9 221.4,248.0 222.0,249.0 222.5,250.0 223.0,247.9 223.5,249.1 224.1,248.9 224.6,248.9 225.1,248.6 225.7,249.2 226.2,249.0 226.7,250.3 227.2,249.2 227.8,249.6 228.3,249.3 228.8,249.4 229.4,250.6 229.9,249.2 230.4,251.2 230.9,250.6 231.5,249.4 232.0,249.6 232.5,247.7 233.0,248.3 233.6,248.9 234.1,248.6 234.6,250.1 235.2,249.0 235.7,250.6 236.2,250.4 236.7,249.7 237.3,250.3 237.8,250.3 238.3,249.8 238.9,251.8 239.4,250.7 239.9,250.3 240.4,249.2 241.0,250.3 241.5,250.8 242.0,252.0 242.5,250.8 243.1,251.3 243.6,250.9 244.1,252.3 244.7,250.3 245.2,250.6 245.7,250.9 246.2,250.2 246.8,250.2 247.3,249.9 247.8,249.5 248.4,249.9 248.9,250.7 249.4,251.4 249.9,251.2 250.5,250.2 251.0,250.0 251.5,251.0 252.0,250.7 252.6,252.9 253.1,251.9 253.6,250.0 254.2,250.9 254.7,250.9 255.2,249.4 255.7,249.9 256.3,250.3 256.8,249.2 257.3,250.0 257.9,250.0 258.4,249.0 258.9,249.3 259.4,250.2 260.0,250.2 260.5,250.6 261.0,250.1 261.5,250.0 262.1,248.8 262.6,249.4 263.1,249.4 263.7,249.8 264.2,249.3 264.7,248.7 265.2,249.6 265.8,250.1 266.3,248.9 266.8,249.4 267.4,248.1 267.9,248.9 268.4,248.6 268.9,249.1 269.5,248.6 270.0,248.2 270.5,249.6 271.0,248.8 271.6,248.6 272.1,246.2 272.6,246.9 273.2,246.2 273.7,246.7 274.2,245.6 274.7,247.8 275.3,247.7 275.8,246.3 276.3,246.7 276.9,243.7 277.4,243.6 277.9,243.8 278.4,243.1 279.0,243.7 279.5,243.4 280.0,242.7 280.5,242.5 281.1,241.1 281.6,239.4 282.1,237.2 282.7,234.5 283.2,234.1 283.7,232.3 284.2,230.3 284.8,229.0 285.3,229.7 285.8,229.2 286.4,229.4 286.9,231.5 287.4,234.5 287.9,235.8 288.5,237.4 289.0,237.7 289.5,239.7 290.0,239.4 290.6,240.1 291.1,239.7 291.6,242.4 292.2,243.5 292.7,245.3 293.2,244.9 293.7,246.0 294.3,247.0 294.8,245.8 295.3,246.5 295.9,245.7 296.4,247.1 296.9,248.0 297.4,247.8 298.0,248.5 298.5,247.2 299.0,247.3 299.5,248.6 300.1,248.5 300.6,248.1 301.1,249.4 301.7,249.3 302.2,249.2 302.7,249.1 303.2,249.7 303.8,249.9 304.3,250.3 304.8,250.9 305.4,249.8 305.9,250.8 306.4,250.2 306.9,250.4 307.5,250.1 308.0,249.8 308.5,250.3 309.0,251.1 309.6,251.5 310.1,250.4 310.6,249.9 311.2,250.4 311.7,249.5 312.2,251.6 312.7,251.3 313.3,250.8 313.8,251.0 314.3,251.4 314.9,251.5 315.4,250.3 315.9,250.4 316.4,250.7 317.0,250.0 317.5,250.4 318.0,250.4 318.5,250.3 319.1,250.6 319.6,250.1 320.1,250.1 320.7,250.5 321.2,251.1 321.7,250.7 322.2,251.8 322.8,251.5 323.3,250.7 323.8,251.1 324.4,250.8 324.9,250.7 325.4,250.7 325.9,251.1 326.5,251.1 327.0,250.9 327.5,248.7 328.0,249.3 328.6,250.7 329.1,249.9 329.6,250.6 330.2,249.7 330.7,248.6 331.2,248.2 331.7,250.4 332.3,248.8 332.8,249.8 333.3,250.0 333.9,251.2 334.4,252.1 334.9,251.1 335.4,251.3 336.0,251.8 336.5,249.9 337.0,251.3 337.5,249.0 338.1,250.0 338.6,249.7 339.1,249.9 339.7,250.8 340.2,250.7 340.7,250.5 341.2,249.5 341.8,248.8 342.3,249.0 342.8,252.0 343.4,251.3 343.9,250.9 344.4,251.3 344.9,249.5 345.5,248.4 346.0,249.0 346.5,250.2 347.1,250.2 347.6,250.3 348.1,250.2 348.6,250.2 349.2,250.1 349.7,251.0 350.2,250.9 350.7,250.3 351.3,250.8 351.8,249.0 352.3,249.9 352.9,251.5 353.4,250.1 353.9,249.4 354.4,249.1 355.0,248.9 355.5,249.1 356.0,248.8 356.6,251.2 357.1,250.1 357.6,250.9 358.1,251.0 358.7,249.0 359.2,251.2 359.7,250.6 360.2,249.8 360.8,249.9 361.3,249.4 361.8,249.4 362.4,250.4 362.9,249.5 363.4,250.3 363.9,249.9 364.5,249.6 365.0,249.1 365.5,249.3 366.1,249.9 366.6,249.9 367.1,250.8 367.6,249.3 368.2,250.5 368.7,249.9 369.2,249.7 369.7,249.9 370.3,250.1 370.8,250.1 371.3,249.6 371.9,248.8 372.4,248.2 372.9,248.0 373.4,248.9 374.0,247.0 374.5,247.9 375.0,247.9 375.6,246.4 376.1,249.4 376.6,248.2 377.1,248.3 377.7,250.4 378.2,248.5 378.7,247.6 379.2,247.3 379.8,248.1 380.3,246.8 380.8,247.4 381.4,247.5 381.9,246.7 382.4,246.8 382.9,247.2 383.5,248.6 384.0,246.4 384.5,246.6 385.1,246.7 385.6,246.4 386.1,246.9 386.6,245.9 387.2,245.5 387.7,245.1 388.2,246.1 388.7,246.1 389.3,245.4 389.8,244.3 390.3,243.9 390.9,242.8 391.4,244.9 391.9,245.1 392.4,244.0 393.0,243.9 393.5,244.2 394.0,243.9 394.6,242.9 395.1,242.2 395.6,241.4 396.1,242.2 396.7,241.7 397.2,241.0 397.7,241.0 398.2,242.5 398.8,240.4 399.3,239.3 399.8,235.4 400.4,231.5 400.9,234.2 401.4,237.1 401.9,239.6 402.5,240.1 403.0,240.1 403.5,241.4 404.1,240.9 404.6,240.8 405.1,241.4 405.6,242.9 406.2,241.5 406.7,241.8 407.2,242.1 407.7,242.0 408.3,242.6 408.8,243.6 409.3,243.4 409.9,244.2 410.4,244.1 410.9,244.4 411.4,244.8 412.0,245.6 412.5,246.8 413.0,246.7 413.6,247.8 414.1,248.7 414.6,247.4 415.1,249.1 415.7,248.6 416.2,248.1 416.7,247.8 417.2,246.7 417.8,246.8 418.3,247.7 418.8,247.7 419.4,249.6 419.9,248.9 420.4,251.2 420.9,250.4 421.5,249.1 422.0,249.5 422.5,249.3 423.1,248.8 423.6,249.9 424.1,249.8 424.6,251.7 425.2,250.7 425.7,250.1 426.2,249.2 426.7,248.3 427.3,249.7 427.8,248.5 428.3,250.1 428.9,250.8 429.4,250.6 429.9,249.4 430.4,249.7 431.0,250.3 431.5,250.4 432.0,250.1 432.6,249.2 433.1,250.2 433.6,249.1 434.1,250.5 434.7,251.7 435.2,250.1 435.7,251.5 436.2,251.6 436.8,250.8 437.3,251.6 437.8,249.9 438.4,250.9 438.9,251.1 439.4,251.3 439.9,252.8 440.5,251.3 441.0,252.4 441.5,252.8 442.1,252.1 442.6,251.9 443.1,251.6 443.6,250.6 444.2,250.4 444.7,250.1 445.2,251.3 445.7,249.8 446.3,250.2 446.8,250.9 447.3,250.0 447.9,250.6 448.4,250.0 448.9,250.5 449.4,250.7 450.0,249.9 450.5,250.7 451.0,252.3 451.6,251.2 452.1,250.7 452.6,251.7 453.1,250.5 453.7,250.3 454.2,250.7 454.7,251.5 455.2,251.7 455.2,264.4" fill="none" stroke="#0a0a0a" stroke-width="2.3" stroke-linejoin="round"/>
<polyline points="58.7,290.1 58.7,276.2 59.2,276.4 59.8,276.2 60.3,276.1 60.8,276.5 61.3,275.9 61.9,276.0 62.4,277.4 62.9,276.3 63.5,275.8 64.0,276.1 64.5,275.0 65.0,275.3 65.6,277.0 66.1,275.9 66.6,276.9 67.1,277.0 67.7,276.7 68.2,276.1 68.7,276.7 69.3,277.9 69.8,277.0 70.3,276.7 70.8,277.1 71.4,276.6 71.9,277.4 72.4,277.4 73.0,276.5 73.5,276.6 74.0,276.0 74.5,276.3 75.1,276.6 75.6,276.3 76.1,275.8 76.6,276.8 77.2,276.5 77.7,276.8 78.2,276.9 78.8,276.8 79.3,275.9 79.8,275.9 80.3,276.1 80.9,275.3 81.4,276.1 81.9,275.5 82.5,275.4 83.0,274.8 83.5,275.9 84.0,275.6 84.6,276.8 85.1,277.8 85.6,276.8 86.1,274.8 86.7,276.9 87.2,275.7 87.7,275.5 88.3,277.3 88.8,275.4 89.3,275.2 89.8,275.7 90.4,274.2 90.9,274.8 91.4,275.5 92.0,275.0 92.5,274.9 93.0,276.2 93.5,276.4 94.1,274.7 94.6,276.5 95.1,275.9 95.6,275.8 96.2,274.8 96.7,275.4 97.2,275.8 97.8,276.7 98.3,276.6 98.8,276.1 99.3,274.6 99.9,273.5 100.4,274.3 100.9,274.3 101.5,275.0 102.0,275.4 102.5,275.6 103.0,273.8 103.6,275.5 104.1,273.6 104.6,273.6 105.1,274.8 105.7,274.9 106.2,275.8 106.7,275.4 107.3,274.9 107.8,273.8 108.3,272.7 108.8,272.3 109.4,273.5 109.9,274.0 110.4,273.9 111.0,272.8 111.5,273.2 112.0,271.5 112.5,271.2 113.1,271.4 113.6,271.6 114.1,270.9 114.6,271.9 115.2,270.6 115.7,271.0 116.2,270.2 116.8,268.9 117.3,268.5 117.8,269.3 118.3,268.9 118.9,266.4 119.4,266.6 119.9,265.3 120.5,263.5 121.0,264.1 121.5,262.4 122.0,261.5 122.6,260.6 123.1,259.4 123.6,258.3 124.1,257.1 124.7,253.8 125.2,251.2 125.7,250.0 126.3,245.2 126.8,242.1 127.3,238.6 127.8,235.6 128.4,229.5 128.9,225.8 129.4,220.9 130.0,217.8 130.5,217.4 131.0,217.7 131.5,220.9 132.1,225.0 132.6,229.6 133.1,234.3 133.6,238.9 134.2,243.3 134.7,245.4 135.2,249.7 135.8,252.6 136.3,253.1 136.8,254.4 137.3,255.1 137.9,257.6 138.4,259.3 138.9,259.8 139.5,261.9 140.0,263.3 140.5,264.7 141.0,265.2 141.6,264.7 142.1,265.5 142.6,264.7 143.1,266.8 143.7,266.5 144.2,266.6 144.7,267.7 145.3,270.2 145.8,271.3 146.3,270.3 146.8,270.6 147.4,271.1 147.9,270.4 148.4,269.7 149.0,270.2 149.5,270.9 150.0,271.9 150.5,270.1 151.1,272.1 151.6,272.2 152.1,273.0 152.6,270.9 153.2,271.6 153.7,271.4 154.2,271.7 154.8,272.6 155.3,273.7 155.8,274.4 156.3,273.1 156.9,272.8 157.4,271.9 157.9,271.4 158.5,271.3 159.0,271.4 159.5,272.7 160.0,273.0 160.6,272.9 161.1,272.9 161.6,272.0 162.1,271.2 162.7,272.0 163.2,271.8 163.7,270.9 164.3,270.6 164.8,269.7 165.3,269.0 165.8,268.5 166.4,268.7 166.9,267.4 167.4,267.4 168.0,265.4 168.5,266.0 169.0,265.5 169.5,266.0 170.1,265.6 170.6,266.9 171.1,267.5 171.6,267.6 172.2,268.9 172.7,269.6 173.2,271.1 173.8,270.9 174.3,272.0 174.8,273.0 175.3,274.0 175.9,273.3 176.4,273.2 176.9,272.3 177.5,273.9 178.0,274.8 178.5,273.7 179.0,274.4 179.6,273.8 180.1,274.1 180.6,276.0 181.1,275.1 181.7,276.2 182.2,277.0 182.7,276.9 183.3,276.6 183.8,274.9 184.3,276.2 184.8,276.7 185.4,276.1 185.9,277.9 186.4,278.2 187.0,277.4 187.5,277.2 188.0,277.3 188.5,277.0 189.1,276.0 189.6,276.6 190.1,276.3 190.6,276.5 191.2,276.5 191.7,275.4 192.2,276.6 192.8,277.0 193.3,280.0 193.8,279.7 194.3,278.6 194.9,276.7 195.4,277.0 195.9,274.6 196.5,274.7 197.0,276.8 197.5,276.4 198.0,276.7 198.6,277.4 199.1,276.5 199.6,277.1 200.2,278.8 200.7,278.8 201.2,278.5 201.7,279.1 202.3,277.6 202.8,278.8 203.3,277.4 203.8,278.2 204.4,278.6 204.9,277.9 205.4,277.3 206.0,278.5 206.5,279.7 207.0,279.0 207.5,278.6 208.1,279.9 208.6,278.7 209.1,279.4 209.7,278.7 210.2,279.2 210.7,279.3 211.2,278.5 211.8,279.0 212.3,278.6 212.8,277.7 213.3,279.1 213.9,278.1 214.4,279.1 214.9,277.9 215.5,279.3 216.0,278.3 216.5,279.7 217.0,279.1 217.6,279.0 218.1,278.9 218.6,280.3 219.2,278.9 219.7,278.5 220.2,278.5 220.7,278.6 221.3,278.5 221.8,279.8 222.3,279.5 222.8,278.3 223.4,279.6 223.9,278.1 224.4,279.0 225.0,278.9 225.5,279.1 226.0,278.2 226.5,278.9 227.1,278.7 227.6,278.2 228.1,277.7 228.7,278.3 229.2,277.7 229.7,278.4 230.2,279.6 230.8,279.5 231.3,278.2 231.8,277.8 232.3,278.5 232.9,278.0 233.4,278.1 233.9,279.4 234.5,278.5 235.0,278.8 235.5,279.6 236.0,278.5 236.6,277.8 237.1,277.4 237.6,279.3 238.2,278.5 238.7,279.1 239.2,278.9 239.7,278.3 240.3,277.9 240.8,278.4 241.3,278.0 241.8,278.0 242.4,278.5 242.9,278.4 243.4,277.9 244.0,280.2 244.5,279.2 245.0,278.7 245.5,278.5 246.1,279.5 246.6,278.2 247.1,278.2 247.7,277.9 248.2,277.9 248.7,276.4 249.2,276.9 249.8,275.6 250.3,277.0 250.8,275.9 251.3,276.4 251.9,277.2 252.4,276.4 252.9,276.4 253.5,275.3 254.0,274.7 254.5,276.1 255.0,275.2 255.6,275.1 256.1,274.3 256.6,272.7 257.2,274.7 257.7,273.9 258.2,272.9 258.7,273.9 259.3,273.5 259.8,272.7 260.3,270.7 260.8,270.7 261.4,268.9 261.9,267.2 262.4,266.8 263.0,265.3 263.5,264.5 264.0,262.4 264.5,261.9 265.1,259.4 265.6,260.2 266.1,259.9 266.7,259.7 267.2,261.7 267.7,264.2 268.2,264.8 268.8,267.1 269.3,267.5 269.8,268.1 270.3,270.5 270.9,270.4 271.4,271.7 271.9,270.4 272.5,271.5 273.0,272.3 273.5,273.2 274.0,273.2 274.6,273.4 275.1,274.1 275.6,272.8 276.2,274.4 276.7,274.2 277.2,274.7 277.7,275.7 278.3,275.1 278.8,275.5 279.3,275.9 279.8,276.4 280.4,276.9 280.9,276.3 281.4,276.0 282.0,277.0 282.5,275.8 283.0,275.1 283.5,275.5 284.1,277.0 284.6,275.8 285.1,276.5 285.7,276.5 286.2,275.4 286.7,275.4 287.2,276.8 287.8,275.7 288.3,278.0 288.8,277.7 289.3,277.9 289.9,277.1 290.4,277.4 290.9,276.8 291.5,275.5 292.0,276.0 292.5,276.8 293.0,275.9 293.6,277.2 294.1,276.4 294.6,276.7 295.2,276.5 295.7,277.0 296.2,276.7 296.7,277.1 297.3,277.5 297.8,277.2 298.3,276.3 298.8,276.0 299.4,276.1 299.9,276.4 300.4,276.9 301.0,276.5 301.5,277.2 302.0,277.1 302.5,278.1 303.1,278.2 303.6,278.8 304.1,280.0 304.7,277.6 305.2,278.6 305.7,278.1 306.2,277.9 306.8,277.3 307.3,277.6 307.8,276.8 308.3,277.0 308.9,277.7 309.4,278.5 309.9,277.4 310.5,277.6 311.0,277.1 311.5,276.3 312.0,276.4 312.6,276.4 313.1,276.4 313.6,276.5 314.2,276.4 314.7,276.0 315.2,274.2 315.7,275.9 316.3,275.9 316.8,276.5 317.3,276.7 317.8,277.6 318.4,277.2 318.9,277.6 319.4,277.8 320.0,277.1 320.5,277.8 321.0,277.5 321.5,276.6 322.1,277.9 322.6,276.2 323.1,277.3 323.7,276.9 324.2,277.3 324.7,277.7 325.2,278.0 325.8,277.3 326.3,277.1 326.8,276.5 327.4,275.9 327.9,276.5 328.4,276.5 328.9,276.2 329.5,277.9 330.0,278.4 330.5,278.1 331.0,277.4 331.6,276.9 332.1,277.4 332.6,276.6 333.2,277.5 333.7,278.1 334.2,275.1 334.7,276.1 335.3,276.7 335.8,276.1 336.3,276.7 336.9,274.3 337.4,275.7 337.9,275.2 338.4,275.4 339.0,276.9 339.5,275.9 340.0,278.3 340.5,277.6 341.1,277.1 341.6,276.6 342.1,276.4 342.7,276.1 343.2,274.9 343.7,276.3 344.2,275.3 344.8,275.0 345.3,275.5 345.8,275.5 346.4,276.0 346.9,276.0 347.4,276.6 347.9,275.8 348.5,275.7 349.0,274.4 349.5,275.3 350.0,274.3 350.6,275.2 351.1,275.8 351.6,276.0 352.2,275.6 352.7,274.5 353.2,274.5 353.7,274.8 354.3,274.9 354.8,273.4 355.3,275.3 355.9,274.4 356.4,275.8 356.9,275.7 357.4,275.1 358.0,276.0 358.5,275.3 359.0,274.1 359.5,273.4 360.1,272.3 360.6,274.5 361.1,272.9 361.7,273.7 362.2,275.2 362.7,274.9 363.2,273.6 363.8,274.4 364.3,273.5 364.8,272.7 365.4,272.5 365.9,271.9 366.4,272.2 366.9,270.9 367.5,270.9 368.0,270.3 368.5,272.6 369.0,271.1 369.6,271.2 370.1,272.7 370.6,269.9 371.2,271.5 371.7,268.8 372.2,268.7 372.7,267.5 373.3,268.7 373.8,269.6 374.3,268.9 374.9,268.2 375.4,267.6 375.9,266.8 376.4,267.1 377.0,266.0 377.5,264.4 378.0,263.8 378.5,264.4 379.1,264.0 379.6,263.1 380.1,261.3 380.7,258.4 381.2,262.1 381.7,263.5 382.2,266.0 382.8,265.7 383.3,266.5 383.8,267.2 384.4,266.2 384.9,266.9 385.4,266.1 385.9,265.6 386.5,268.0 387.0,267.9 387.5,268.6 388.0,269.8 388.6,269.7 389.1,269.2 389.6,269.8 390.2,270.8 390.7,271.1 391.2,270.8 391.7,272.2 392.3,271.7 392.8,272.2 393.3,273.4 393.9,274.1 394.4,272.9 394.9,274.3 395.4,274.1 396.0,272.9 396.5,273.4 397.0,274.0 397.5,275.4 398.1,275.5 398.6,276.8 399.1,276.3 399.7,274.4 400.2,274.2 400.7,274.7 401.2,274.3 401.8,273.0 402.3,272.9 402.8,273.7 403.4,274.0 403.9,274.7 404.4,275.7 404.9,274.3 405.5,275.1 406.0,276.1 406.5,276.5 407.0,275.7 407.6,276.7 408.1,275.3 408.6,275.9 409.2,275.4 409.7,275.4 410.2,275.4 410.7,277.0 411.3,276.6 411.8,275.8 412.3,274.5 412.9,275.8 413.4,276.3 413.9,275.8 414.4,275.9 415.0,276.6 415.5,274.9 416.0,276.2 416.5,275.9 417.1,276.1 417.6,276.0 418.1,277.2 418.7,276.7 419.2,275.6 419.7,275.4 420.2,276.1 420.8,277.5 421.3,277.0 421.8,277.4 422.4,277.6 422.9,277.7 423.4,276.7 423.9,276.2 424.5,275.7 425.0,276.3 425.5,277.0 426.0,277.1 426.6,277.3 427.1,277.1 427.6,276.6 428.2,277.1 428.7,276.1 429.2,277.4 429.7,276.7 430.3,276.4 430.8,275.4 431.3,275.4 431.9,276.4 432.4,275.8 432.9,276.6 433.4,277.4 434.0,276.7 434.5,277.2 435.0,276.7 435.5,277.1 435.5,290.1" fill="none" stroke="#0a0a0a" stroke-width="2.3" stroke-linejoin="round"/>
<polyline points="39.0,315.8 39.0,303.1 39.5,302.1 40.1,303.2 40.6,301.7 41.1,301.5 41.6,300.9 42.2,302.8 42.7,302.8 43.2,301.9 43.8,302.9 44.3,301.9 44.8,303.0 45.3,303.3 45.9,303.7 46.4,302.5 46.9,301.5 47.4,301.6 48.0,302.3 48.5,302.1 49.0,303.5 49.6,303.3 50.1,304.2 50.6,303.1 51.1,301.6 51.7,302.1 52.2,302.8 52.7,304.2 53.3,304.1 53.8,303.3 54.3,304.3 54.8,303.6 55.4,302.3 55.9,302.9 56.4,302.1 56.9,301.2 57.5,302.3 58.0,302.5 58.5,302.6 59.1,302.2 59.6,301.2 60.1,301.1 60.6,300.9 61.2,300.9 61.7,301.8 62.2,302.1 62.8,300.6 63.3,302.5 63.8,302.1 64.3,302.4 64.9,302.9 65.4,302.9 65.9,301.9 66.4,303.2 67.0,303.1 67.5,302.9 68.0,302.6 68.6,302.9 69.1,301.6 69.6,302.3 70.1,303.0 70.7,302.6 71.2,302.9 71.7,303.1 72.3,301.4 72.8,302.0 73.3,302.2 73.8,301.3 74.4,301.4 74.9,300.4 75.4,299.9 75.9,300.4 76.5,300.3 77.0,301.6 77.5,300.4 78.1,301.1 78.6,299.6 79.1,299.5 79.6,300.5 80.2,301.0 80.7,300.5 81.2,301.0 81.8,300.9 82.3,301.1 82.8,300.5 83.3,299.7 83.9,300.8 84.4,299.5 84.9,299.1 85.4,299.8 86.0,300.4 86.5,299.6 87.0,301.5 87.6,299.6 88.1,299.7 88.6,301.3 89.1,298.8 89.7,299.1 90.2,298.1 90.7,298.7 91.3,298.7 91.8,299.4 92.3,298.5 92.8,298.1 93.4,298.5 93.9,297.9 94.4,297.2 94.9,296.6 95.5,296.3 96.0,295.5 96.5,295.4 97.1,295.5 97.6,296.0 98.1,294.0 98.6,293.3 99.2,294.4 99.7,293.0 100.2,292.0 100.8,290.4 101.3,289.9 101.8,289.5 102.3,289.0 102.9,287.4 103.4,286.5 103.9,285.8 104.4,283.4 105.0,282.6 105.5,279.4 106.0,277.1 106.6,273.7 107.1,271.6 107.6,267.7 108.1,265.3 108.7,260.1 109.2,254.1 109.7,250.6 110.3,246.3 110.8,246.1 111.3,245.6 111.8,249.4 112.4,255.2 112.9,258.7 113.4,264.2 113.9,267.1 114.5,271.4 115.0,276.1 115.5,276.6 116.1,279.4 116.6,281.9 117.1,283.7 117.6,285.5 118.2,286.6 118.7,287.1 119.2,290.3 119.8,290.9 120.3,290.2 120.8,291.6 121.3,291.6 121.9,291.0 122.4,292.7 122.9,293.0 123.4,293.8 124.0,295.0 124.5,296.1 125.0,297.1 125.6,298.1 126.1,297.0 126.6,298.6 127.1,298.3 127.7,298.8 128.2,297.9 128.7,297.3 129.3,297.2 129.8,298.2 130.3,297.2 130.8,298.4 131.4,297.8 131.9,296.2 132.4,298.0 132.9,297.4 133.5,299.1 134.0,299.1 134.5,299.4 135.1,298.4 135.6,298.6 136.1,298.5 136.6,297.3 137.2,298.4 137.7,298.3 138.2,297.2 138.8,298.1 139.3,298.8 139.8,298.4 140.3,298.3 140.9,298.5 141.4,298.8 141.9,298.5 142.4,296.9 143.0,298.0 143.5,297.6 144.0,295.4 144.6,294.9 145.1,294.1 145.6,293.8 146.1,292.8 146.7,293.0 147.2,292.5 147.7,293.6 148.3,291.7 148.8,291.7 149.3,291.2 149.8,292.5 150.4,293.7 150.9,294.0 151.4,295.0 151.9,295.2 152.5,297.0 153.0,296.9 153.5,297.9 154.1,297.9 154.6,298.4 155.1,299.4 155.6,299.2 156.2,300.1 156.7,300.0 157.2,300.2 157.8,301.3 158.3,300.5 158.8,299.4 159.3,299.9 159.9,299.8 160.4,299.4 160.9,300.4 161.4,301.4 162.0,300.5 162.5,299.8 163.0,300.0 163.6,299.7 164.1,300.0 164.6,301.1 165.1,300.5 165.7,301.0 166.2,300.4 166.7,300.9 167.3,301.4 167.8,300.5 168.3,301.3 168.8,302.8 169.4,302.0 169.9,302.9 170.4,300.7 170.9,301.6 171.5,300.9 172.0,302.8 172.5,303.2 173.1,303.1 173.6,303.6 174.1,304.0 174.6,303.4 175.2,302.9 175.7,303.2 176.2,304.1 176.8,305.0 177.3,304.0 177.8,303.9 178.3,303.0 178.9,302.3 179.4,302.6 179.9,303.5 180.5,303.8 181.0,303.5 181.5,304.0 182.0,304.3 182.6,303.9 183.1,304.7 183.6,304.2 184.1,304.3 184.7,303.7 185.2,303.5 185.7,303.3 186.3,303.5 186.8,302.9 187.3,303.8 187.8,304.1 188.4,303.3 188.9,303.8 189.4,302.4 190.0,303.8 190.5,304.5 191.0,303.9 191.5,304.7 192.1,304.3 192.6,303.8 193.1,304.4 193.6,304.5 194.2,306.4 194.7,305.3 195.2,306.6 195.8,305.4 196.3,304.1 196.8,304.5 197.3,304.4 197.9,302.5 198.4,304.5 198.9,304.2 199.5,305.1 200.0,303.4 200.5,304.7 201.0,304.5 201.6,305.4 202.1,305.1 202.6,305.8 203.1,304.3 203.7,304.6 204.2,304.3 204.7,303.4 205.3,304.4 205.8,305.1 206.3,305.1 206.8,306.2 207.4,305.0 207.9,305.0 208.4,305.1 209.0,304.8 209.5,304.9 210.0,305.4 210.5,304.9 211.1,304.0 211.6,303.5 212.1,303.6 212.6,304.8 213.2,305.3 213.7,305.5 214.2,305.5 214.8,304.5 215.3,304.1 215.8,303.5 216.3,304.1 216.9,304.1 217.4,304.4 217.9,303.3 218.5,305.1 219.0,304.1 219.5,303.3 220.0,303.3 220.6,302.1 221.1,303.0 221.6,304.1 222.1,305.0 222.7,305.5 223.2,305.5 223.7,304.6 224.3,304.4 224.8,303.8 225.3,303.0 225.8,302.7 226.4,302.7 226.9,302.2 227.4,303.3 228.0,301.3 228.5,301.4 229.0,302.7 229.5,302.9 230.1,302.5 230.6,303.0 231.1,302.7 231.6,303.7 232.2,303.3 232.7,303.4 233.2,303.4 233.8,302.6 234.3,302.3 234.8,302.4 235.3,300.5 235.9,300.6 236.4,300.2 236.9,300.3 237.5,300.7 238.0,300.0 238.5,300.8 239.0,299.8 239.6,300.2 240.1,298.7 240.6,297.5 241.1,298.0 241.7,295.1 242.2,294.6 242.7,294.3 243.3,292.7 243.8,291.1 244.3,290.7 244.8,289.1 245.4,288.6 245.9,288.8 246.4,288.5 247.0,289.6 247.5,290.8 248.0,292.8 248.5,293.4 249.1,293.5 249.6,294.4 250.1,295.1 250.6,294.4 251.2,296.2 251.7,296.7 252.2,296.9 252.8,298.1 253.3,298.3 253.8,299.5 254.3,300.3 254.9,300.1 255.4,300.7 255.9,301.7 256.5,301.2 257.0,302.6 257.5,301.5 258.0,302.3 258.6,302.1 259.1,300.9 259.6,300.8 260.1,301.2 260.7,301.9 261.2,302.9 261.7,302.8 262.3,303.3 262.8,302.3 263.3,301.1 263.8,301.2 264.4,301.7 264.9,302.7 265.4,302.6 266.0,303.3 266.5,302.5 267.0,303.3 267.5,303.2 268.1,303.0 268.6,303.6 269.1,302.9 269.6,304.2 270.2,304.1 270.7,303.8 271.2,303.2 271.8,303.1 272.3,303.0 272.8,303.3 273.3,303.8 273.9,303.7 274.4,302.6 274.9,302.6 275.5,303.4 276.0,303.8 276.5,303.0 277.0,302.9 277.6,302.8 278.1,303.5 278.6,304.4 279.1,303.0 279.7,302.3 280.2,302.4 280.7,303.8 281.3,303.3 281.8,303.5 282.3,301.6 282.8,302.2 283.4,302.9 283.9,302.3 284.4,303.2 285.0,303.2 285.5,303.7 286.0,304.4 286.5,303.5 287.1,303.6 287.6,302.0 288.1,302.2 288.6,302.3 289.2,303.8 289.7,302.0 290.2,302.3 290.8,304.1 291.3,302.2 291.8,302.9 292.3,302.7 292.9,302.2 293.4,301.9 293.9,301.0 294.5,301.7 295.0,302.4 295.5,299.9 296.0,300.7 296.6,302.0 297.1,302.2 297.6,302.9 298.1,302.6 298.7,302.2 299.2,302.5 299.7,303.3 300.3,303.1 300.8,302.7 301.3,303.1 301.8,302.3 302.4,303.7 302.9,302.7 303.4,303.0 304.0,302.5 304.5,301.6 305.0,302.5 305.5,302.2 306.1,302.3 306.6,301.3 307.1,301.5 307.7,301.1 308.2,301.3 308.7,302.4 309.2,301.8 309.8,301.5 310.3,302.5 310.8,301.9 311.3,301.1 311.9,301.5 312.4,301.9 312.9,301.9 313.5,301.2 314.0,300.4 314.5,301.6 315.0,300.5 315.6,302.2 316.1,302.7 316.6,301.8 317.2,302.4 317.7,301.8 318.2,302.2 318.7,302.8 319.3,302.4 319.8,301.5 320.3,301.4 320.8,300.5 321.4,302.1 321.9,302.0 322.4,303.3 323.0,302.2 323.5,302.7 324.0,301.5 324.5,302.1 325.1,302.5 325.6,301.0 326.1,302.0 326.7,300.9 327.2,301.5 327.7,302.6 328.2,301.6 328.8,301.8 329.3,302.0 329.8,301.3 330.3,301.5 330.9,300.5 331.4,301.6 331.9,301.8 332.5,300.7 333.0,302.1 333.5,301.3 334.0,301.4 334.6,301.8 335.1,302.1 335.6,301.7 336.2,301.6 336.7,300.1 337.2,299.2 337.7,298.3 338.3,298.2 338.8,296.9 339.3,297.5 339.8,299.5 340.4,299.2 340.9,300.1 341.4,298.7 342.0,299.1 342.5,298.3 343.0,299.2 343.5,298.8 344.1,298.7 344.6,297.6 345.1,299.0 345.7,298.1 346.2,298.2 346.7,298.9 347.2,298.8 347.8,297.0 348.3,296.1 348.8,296.3 349.3,295.6 349.9,294.3 350.4,295.3 350.9,295.5 351.5,296.2 352.0,295.8 352.5,295.1 353.0,294.1 353.6,293.2 354.1,293.4 354.6,293.8 355.2,293.7 355.7,293.4 356.2,293.7 356.7,293.4 357.3,291.9 357.8,290.9 358.3,291.7 358.8,290.3 359.4,288.7 359.9,287.9 360.4,284.9 361.0,281.1 361.5,284.9 362.0,286.4 362.5,288.8 363.1,288.5 363.6,289.1 364.1,290.7 364.7,290.0 365.2,290.6 365.7,292.2 366.2,291.0 366.8,293.6 367.3,294.3 367.8,294.8 368.3,294.4 368.9,294.5 369.4,295.2 369.9,294.6 370.5,295.4 371.0,294.7 371.5,293.8 372.0,295.7 372.6,297.4 373.1,297.2 373.6,298.3 374.2,297.8 374.7,298.4 375.2,299.7 375.7,300.7 376.3,300.3 376.8,299.8 377.3,301.1 377.8,298.3 378.4,299.1 378.9,299.6 379.4,299.6 380.0,300.7 380.5,300.2 381.0,300.7 381.5,300.4 382.1,300.8 382.6,302.2 383.1,301.5 383.7,300.5 384.2,300.9 384.7,300.5 385.2,301.9 385.8,301.7 386.3,302.5 386.8,301.2 387.3,300.9 387.9,300.4 388.4,300.2 388.9,298.8 389.5,300.2 390.0,302.1 390.5,301.6 391.0,302.5 391.6,302.2 392.1,301.1 392.6,300.2 393.2,301.0 393.7,302.9 394.2,303.4 394.7,302.4 395.3,301.5 395.8,303.2 396.3,303.4 396.8,301.4 397.4,302.2 397.9,301.1 398.4,301.7 399.0,301.3 399.5,302.9 400.0,302.1 400.5,302.3 401.1,302.2 401.6,302.5 402.1,302.1 402.7,302.5 403.2,302.8 403.7,302.7 404.2,302.0 404.8,301.8 405.3,303.9 405.8,302.1 406.3,302.7 406.9,304.0 407.4,305.4 407.9,304.0 408.5,303.8 409.0,304.0 409.5,304.2 410.0,303.3 410.6,301.3 411.1,301.3 411.6,301.3 412.2,302.3 412.7,302.4 413.2,302.0 413.7,301.3 414.3,301.0 414.8,300.1 415.3,301.3 415.8,301.3 415.8,315.8" fill="none" stroke="#0a0a0a" stroke-width="2.3" stroke-linejoin="round"/>
<polyline points="19.3,341.5 19.3,329.2 19.8,328.5 20.4,329.5 20.9,329.1 21.4,328.1 21.9,330.7 22.5,329.0 23.0,330.8 23.5,330.6 24.1,329.2 24.6,330.2 25.1,329.4 25.6,330.4 26.2,330.5 26.7,330.7 27.2,329.9 27.7,329.7 28.3,328.4 28.8,329.3 29.3,328.8 29.9,329.5 30.4,328.8 30.9,328.5 31.4,328.4 32.0,329.1 32.5,328.0 33.0,329.8 33.6,328.3 34.1,328.6 34.6,329.7 35.1,328.6 35.7,329.2 36.2,328.1 36.7,329.5 37.2,328.0 37.8,328.1 38.3,329.6 38.8,329.7 39.4,328.9 39.9,330.0 40.4,328.8 40.9,328.7 41.5,328.9 42.0,328.4 42.5,329.3 43.1,329.4 43.6,329.5 44.1,328.0 44.6,327.9 45.2,329.3 45.7,328.6 46.2,329.0 46.7,328.4 47.3,329.2 47.8,330.2 48.3,329.2 48.9,328.7 49.4,328.2 49.9,329.1 50.4,330.7 51.0,330.1 51.5,329.8 52.0,329.7 52.6,328.6 53.1,327.3 53.6,328.1 54.1,328.5 54.7,328.0 55.2,329.1 55.7,327.7 56.2,328.5 56.8,327.6 57.3,328.9 57.8,329.0 58.4,329.7 58.9,328.8 59.4,327.9 59.9,328.4 60.5,328.6 61.0,326.6 61.5,327.6 62.1,327.5 62.6,326.1 63.1,326.2 63.6,326.3 64.2,326.2 64.7,326.7 65.2,327.3 65.7,327.5 66.3,327.3 66.8,328.2 67.3,327.8 67.9,326.8 68.4,327.1 68.9,326.2 69.4,327.2 70.0,326.2 70.5,325.4 71.0,326.4 71.6,326.3 72.1,325.3 72.6,325.3 73.1,325.6 73.7,324.2 74.2,324.5 74.7,323.2 75.2,324.1 75.8,323.5 76.3,322.6 76.8,322.6 77.4,322.1 77.9,323.0 78.4,324.1 78.9,322.0 79.5,322.5 80.0,322.6 80.5,320.4 81.1,319.1 81.6,319.8 82.1,317.9 82.6,316.4 83.2,316.0 83.7,314.4 84.2,312.3 84.7,311.4 85.3,310.5 85.8,308.1 86.3,306.3 86.9,302.0 87.4,300.0 87.9,294.9 88.4,292.1 89.0,287.0 89.5,282.5 90.0,277.0 90.6,272.4 91.1,271.3 91.6,272.6 92.1,277.1 92.7,281.5 93.2,285.8 93.7,290.6 94.2,296.3 94.8,299.5 95.3,304.2 95.8,306.8 96.4,308.4 96.9,310.0 97.4,312.1 97.9,313.2 98.5,315.4 99.0,316.9 99.5,317.5 100.1,317.8 100.6,319.1 101.1,317.1 101.6,319.4 102.2,319.4 102.7,320.4 103.2,322.8 103.7,322.1 104.3,321.5 104.8,324.7 105.3,323.0 105.9,324.3 106.4,324.0 106.9,323.0 107.4,324.0 108.0,324.2 108.5,325.2 109.0,326.7 109.6,326.5 110.1,323.9 110.6,326.1 111.1,325.8 111.7,326.0 112.2,326.8 112.7,325.3 113.2,324.1 113.8,324.7 114.3,323.6 114.8,325.0 115.4,323.6 115.9,326.5 116.4,325.8 116.9,325.2 117.5,324.8 118.0,325.1 118.5,325.4 119.1,325.5 119.6,326.2 120.1,326.7 120.6,325.7 121.2,325.2 121.7,325.0 122.2,325.2 122.7,326.1 123.3,324.7 123.8,322.2 124.3,323.1 124.9,322.0 125.4,320.9 125.9,318.8 126.4,319.1 127.0,320.0 127.5,318.1 128.0,317.7 128.6,317.7 129.1,318.6 129.6,319.1 130.1,320.4 130.7,319.9 131.2,320.6 131.7,321.8 132.2,322.6 132.8,322.4 133.3,322.2 133.8,322.9 134.4,324.1 134.9,325.9 135.4,324.6 135.9,325.2 136.5,324.6 137.0,325.6 137.5,325.3 138.1,325.8 138.6,324.4 139.1,326.7 139.6,327.6 140.2,327.9 140.7,328.2 141.2,326.6 141.7,327.9 142.3,327.7 142.8,326.6 143.3,327.4 143.9,326.6 144.4,326.7 144.9,328.2 145.4,329.1 146.0,330.2 146.5,328.6 147.0,327.8 147.6,327.8 148.1,327.2 148.6,329.0 149.1,329.2 149.7,328.7 150.2,328.7 150.7,329.8 151.2,329.4 151.8,329.1 152.3,330.3 152.8,330.2 153.4,331.4 153.9,329.4 154.4,329.3 154.9,330.2 155.5,329.9 156.0,330.6 156.5,329.3 157.1,329.2 157.6,329.2 158.1,330.1 158.6,329.4 159.2,329.6 159.7,328.8 160.2,330.1 160.8,329.6 161.3,328.7 161.8,329.1 162.3,329.8 162.9,329.0 163.4,329.2 163.9,330.8 164.4,330.5 165.0,329.8 165.5,330.6 166.0,330.1 166.6,331.1 167.1,330.4 167.6,329.9 168.1,328.2 168.7,329.5 169.2,329.8 169.7,330.0 170.3,330.5 170.8,329.8 171.3,330.2 171.8,329.2 172.4,330.7 172.9,331.6 173.4,332.0 173.9,331.2 174.5,330.6 175.0,329.4 175.5,329.2 176.1,330.0 176.6,330.7 177.1,330.8 177.6,330.1 178.2,331.7 178.7,330.5 179.2,329.5 179.8,330.1 180.3,329.7 180.8,331.4 181.3,332.7 181.9,331.6 182.4,331.6 182.9,331.0 183.4,331.2 184.0,331.2 184.5,332.4 185.0,331.8 185.6,331.0 186.1,330.4 186.6,330.4 187.1,331.0 187.7,331.7 188.2,330.6 188.7,330.3 189.3,328.2 189.8,330.2 190.3,330.3 190.8,329.2 191.4,331.0 191.9,331.2 192.4,331.0 192.9,332.6 193.5,332.7 194.0,331.5 194.5,330.8 195.1,330.1 195.6,329.7 196.1,329.9 196.6,330.8 197.2,330.2 197.7,331.3 198.2,332.7 198.8,332.0 199.3,332.0 199.8,332.1 200.3,331.6 200.9,331.4 201.4,330.8 201.9,329.5 202.4,329.4 203.0,329.2 203.5,329.5 204.0,330.1 204.6,328.4 205.1,329.9 205.6,329.1 206.1,329.6 206.7,329.7 207.2,330.0 207.7,329.5 208.3,329.8 208.8,330.4 209.3,330.4 209.8,331.2 210.4,330.0 210.9,330.1 211.4,332.0 211.9,331.2 212.5,329.6 213.0,329.3 213.5,329.2 214.1,328.2 214.6,327.7 215.1,327.3 215.6,326.7 216.2,327.9 216.7,327.6 217.2,329.3 217.8,328.7 218.3,328.7 218.8,327.3 219.3,326.0 219.9,327.0 220.4,327.4 220.9,326.6 221.4,326.0 222.0,325.1 222.5,324.1 223.0,323.5 223.6,325.2 224.1,322.9 224.6,323.6 225.1,323.1 225.7,320.9 226.2,320.3 226.7,321.8 227.3,322.3 227.8,322.3 228.3,322.7 228.8,322.2 229.4,323.3 229.9,324.0 230.4,323.7 230.9,324.8 231.5,324.1 232.0,325.8 232.5,326.5 233.1,327.6 233.6,328.1 234.1,328.4 234.6,328.7 235.2,329.0 235.7,328.8 236.2,328.5 236.8,329.0 237.3,329.3 237.8,329.6 238.3,328.8 238.9,327.3 239.4,327.5 239.9,327.7 240.4,329.2 241.0,328.7 241.5,330.1 242.0,330.8 242.6,330.5 243.1,329.8 243.6,330.0 244.1,329.7 244.7,330.0 245.2,330.2 245.7,331.1 246.3,329.1 246.8,329.5 247.3,329.8 247.8,329.5 248.4,329.1 248.9,329.7 249.4,329.2 249.9,331.0 250.5,330.5 251.0,330.1 251.5,330.3 252.1,329.4 252.6,331.0 253.1,330.6 253.6,330.4 254.2,330.5 254.7,330.1 255.2,329.6 255.8,329.9 256.3,329.5 256.8,329.8 257.3,330.3 257.9,329.7 258.4,329.4 258.9,329.9 259.4,329.0 260.0,330.4 260.5,328.8 261.0,328.7 261.6,329.3 262.1,330.1 262.6,329.7 263.1,330.6 263.7,329.3 264.2,329.1 264.7,329.7 265.3,329.7 265.8,329.3 266.3,329.8 266.8,330.0 267.4,329.6 267.9,328.9 268.4,329.5 268.9,330.0 269.5,330.1 270.0,329.9 270.5,330.3 271.1,329.9 271.6,329.0 272.1,330.5 272.6,329.4 273.2,330.5 273.7,329.4 274.2,330.4 274.8,328.3 275.3,331.2 275.8,330.6 276.3,329.3 276.9,329.5 277.4,329.9 277.9,328.2 278.4,327.4 279.0,329.0 279.5,328.7 280.0,330.0 280.6,330.6 281.1,329.2 281.6,330.0 282.1,330.4 282.7,328.3 283.2,330.6 283.7,329.4 284.3,329.2 284.8,329.7 285.3,328.6 285.8,331.0 286.4,330.7 286.9,331.2 287.4,330.9 288.0,329.9 288.5,329.0 289.0,327.6 289.5,330.0 290.1,330.2 290.6,330.5 291.1,329.6 291.6,328.4 292.2,327.3 292.7,328.1 293.2,327.3 293.8,328.5 294.3,329.3 294.8,329.8 295.3,330.9 295.9,329.7 296.4,329.9 296.9,330.6 297.5,330.4 298.0,328.8 298.5,330.0 299.0,329.1 299.6,329.7 300.1,329.6 300.6,329.7 301.1,329.1 301.7,326.9 302.2,328.6 302.7,329.6 303.3,329.1 303.8,330.0 304.3,329.6 304.8,328.4 305.4,329.3 305.9,329.9 306.4,328.6 307.0,330.1 307.5,329.6 308.0,331.6 308.5,329.6 309.1,329.9 309.6,329.2 310.1,328.6 310.6,327.7 311.2,327.2 311.7,327.5 312.2,327.6 312.8,327.1 313.3,329.1 313.8,328.1 314.3,329.1 314.9,327.9 315.4,326.5 315.9,325.8 316.5,326.7 317.0,327.3 317.5,326.8 318.0,327.8 318.6,326.3 319.1,326.7 319.6,326.5 320.1,324.6 320.7,324.7 321.2,324.6 321.7,327.0 322.3,326.4 322.8,327.2 323.3,326.9 323.8,327.3 324.4,326.7 324.9,327.1 325.4,328.5 326.0,328.6 326.5,328.0 327.0,325.8 327.5,325.3 328.1,325.2 328.6,324.2 329.1,324.7 329.6,324.8 330.2,324.3 330.7,324.5 331.2,323.3 331.8,323.8 332.3,323.5 332.8,323.0 333.3,322.4 333.9,322.6 334.4,320.5 334.9,320.3 335.5,319.9 336.0,320.2 336.5,321.6 337.0,320.7 337.6,320.9 338.1,321.8 338.6,320.7 339.1,320.7 339.7,319.1 340.2,316.1 340.7,314.1 341.3,310.7 341.8,314.4 342.3,318.3 342.8,318.3 343.4,319.0 343.9,319.5 344.4,319.7 345.0,321.3 345.5,321.4 346.0,322.0 346.5,320.0 347.1,320.1 347.6,319.9 348.1,321.1 348.6,321.7 349.2,321.6 349.7,323.3 350.2,323.0 350.8,323.5 351.3,324.1 351.8,325.2 352.3,324.5 352.9,325.1 353.4,325.4 353.9,324.4 354.5,325.5 355.0,326.0 355.5,325.8 356.0,327.3 356.6,327.9 357.1,327.6 357.6,326.9 358.1,327.6 358.7,328.6 359.2,327.3 359.7,327.2 360.3,327.6 360.8,328.2 361.3,329.1 361.8,328.9 362.4,328.5 362.9,327.5 363.4,327.4 364.0,328.1 364.5,327.5 365.0,328.9 365.5,327.9 366.1,327.2 366.6,329.6 367.1,328.4 367.6,329.9 368.2,330.5 368.7,328.4 369.2,330.4 369.8,329.2 370.3,327.9 370.8,328.7 371.3,329.6 371.9,328.1 372.4,328.1 372.9,329.8 373.5,329.2 374.0,329.4 374.5,328.6 375.0,330.8 375.6,330.2 376.1,330.0 376.6,331.1 377.1,329.4 377.7,329.8 378.2,328.8 378.7,327.7 379.3,328.7 379.8,329.4 380.3,330.7 380.8,331.9 381.4,331.6 381.9,332.1 382.4,330.8 383.0,329.2 383.5,330.2 384.0,330.3 384.5,330.0 385.1,330.7 385.6,331.3 386.1,330.7 386.6,329.9 387.2,329.4 387.7,330.3 388.2,329.3 388.8,329.1 389.3,329.2 389.8,327.4 390.3,329.5 390.9,329.9 391.4,329.9 391.9,329.6 392.5,329.1 393.0,329.5 393.5,328.8 394.0,329.1 394.6,329.9 395.1,329.6 395.6,329.9 396.1,329.7 396.1,341.5" fill="none" stroke="#0a0a0a" stroke-width="2.3" stroke-linejoin="round"/>
<circle cx="91.5" cy="265.5" r="2.6" fill="#0a0a0a"/>
<circle cx="129.0" cy="311.5" r="2.6" fill="#0a0a0a"/>
<circle cx="227.6" cy="315.6" r="2.6" fill="#d9452b"/>
<circle cx="341.0" cy="304.0" r="2.6" fill="#0a0a0a"/>
<circle cx="110.9" cy="239.8" r="2.6" fill="#0a0a0a"/>
<circle cx="149.0" cy="285.0" r="2.6" fill="#0a0a0a"/>
<circle cx="247.0" cy="283.5" r="2.6" fill="#d9452b"/>
<circle cx="361.4" cy="281.2" r="2.6" fill="#0a0a0a"/>
<circle cx="130.0" cy="211.0" r="2.6" fill="#0a0a0a"/>
<circle cx="168.2" cy="259.2" r="2.6" fill="#0a0a0a"/>
<circle cx="266.0" cy="252.8" r="2.6" fill="#d9452b"/>
<circle cx="380.8" cy="250.0" r="2.6" fill="#0a0a0a"/>
<circle cx="150.8" cy="189.4" r="2.6" fill="#0a0a0a"/>
<circle cx="189.0" cy="235.5" r="2.6" fill="#0a0a0a"/>
<circle cx="286.0" cy="225.0" r="2.6" fill="#d9452b"/>
<circle cx="401.8" cy="227.8" r="2.6" fill="#0a0a0a"/>
<circle cx="170.2" cy="165.6" r="2.6" fill="#0a0a0a"/>
<circle cx="206.3" cy="208.6" r="2.6" fill="#0a0a0a"/>
<circle cx="304.6" cy="192.3" r="2.6" fill="#d9452b"/>
<circle cx="421.0" cy="202.5" r="2.6" fill="#0a0a0a"/>
<circle cx="189.3" cy="138.3" r="2.6" fill="#0a0a0a"/>
<circle cx="227.4" cy="183.4" r="2.6" fill="#0a0a0a"/>
<circle cx="324.7" cy="160.0" r="2.6" fill="#d9452b"/>
<circle cx="441.2" cy="178.0" r="2.6" fill="#0a0a0a"/>
<circle cx="209.4" cy="124.0" r="2.6" fill="#0a0a0a"/>
<circle cx="248.6" cy="167.6" r="2.6" fill="#0a0a0a"/>
<circle cx="459.8" cy="159.0" r="2.6" fill="#0a0a0a"/>
<g font-family="'Liberation Serif', 'Times New Roman', serif" font-weight="bold" fill="#0a0a0a">
<text x="19.3" y="361.5" font-size="13.5" text-anchor="middle" textLength="19.1" lengthAdjust="spacingAndGlyphs">200</text>
<text x="94.7" y="361.5" font-size="13.5" text-anchor="middle" textLength="19.1" lengthAdjust="spacingAndGlyphs">300</text>
<text x="170.1" y="361.5" font-size="13.5" text-anchor="middle" textLength="19.1" lengthAdjust="spacingAndGlyphs">400</text>
<text x="245.5" y="361.5" font-size="13.5" text-anchor="middle" textLength="19.1" lengthAdjust="spacingAndGlyphs">500</text>
<text x="320.9" y="361.5" font-size="13.5" text-anchor="middle" textLength="19.1" lengthAdjust="spacingAndGlyphs">600</text>
<text x="396.3" y="361.5" font-size="13.5" text-anchor="middle" textLength="19.1" lengthAdjust="spacingAndGlyphs">700</text>
<text x="114.2" y="388.8" font-size="21" textLength="152.8" lengthAdjust="spacingAndGlyphs">Raman shift (cm</text>
<text x="268.4" y="376.2" font-size="10.6">-1</text>
<text x="278.7" y="388.8" font-size="21">)</text>
<text transform="translate(542.7,171.0) rotate(-90)" font-size="22.8" textLength="146.6" lengthAdjust="spacingAndGlyphs">Intensity (a.u.)</text>
<text x="427" y="49.6" font-size="16" textLength="34" lengthAdjust="spacingAndGlyphs">CuO</text>
<text x="427" y="70" font-size="16" textLength="30.8" lengthAdjust="spacingAndGlyphs">CuS</text>
<text x="210.5" y="118.8" font-size="16.5" text-anchor="middle" textLength="23.6" lengthAdjust="spacingAndGlyphs">296</text>
<text x="249" y="161.1" font-size="16.5" text-anchor="middle" textLength="23.6" lengthAdjust="spacingAndGlyphs">343</text>
<text x="325.3" y="153.4" font-size="16.5" text-anchor="middle" textLength="23.6" lengthAdjust="spacingAndGlyphs">472</text>
<text x="461" y="154.2" font-size="16.5" text-anchor="middle" textLength="23.6" lengthAdjust="spacingAndGlyphs">627</text>
<text x="389.4" y="324.0" font-size="15" text-anchor="middle">(7)</text>
<text x="406.4" y="297.3" font-size="15" text-anchor="middle">(6)</text>
<text x="424.8" y="272.5" font-size="15" text-anchor="middle">(5)</text>
<text x="443.4" y="246.6" font-size="15" text-anchor="middle">(4)</text>
<text x="464.7" y="218.9" font-size="15" text-anchor="middle">(3)</text>
<text x="481.9" y="194.8" font-size="15" text-anchor="middle">(2)</text>
<text x="495.2" y="174" font-size="15" text-anchor="middle" fill="#f28a1c">(1)</text>
<text transform="translate(29.1,289.9) rotate(-53.9)" font-size="17.1">Exposed to H<tspan dy="4.5" font-size="9">2</tspan><tspan dy="-4.5">S</tspan></text>
</g>
<circle cx="470.0" cy="42.7" r="2.5" fill="#0a0a0a"/>
<circle cx="469.6" cy="65.8" r="2.4" fill="#d9452b"/>
<line x1="21.8" y1="320.1" x2="111.4" y2="197.0" stroke="#0a0a0a" stroke-width="1.4"/>
<path d="M113.8 193.8L110.8 202.3L106.6 199.2ZM19.4 323.3L27.8 316.8L23.1 313.3Z" fill="#0a0a0a"/>
</svg>
</body></html>
